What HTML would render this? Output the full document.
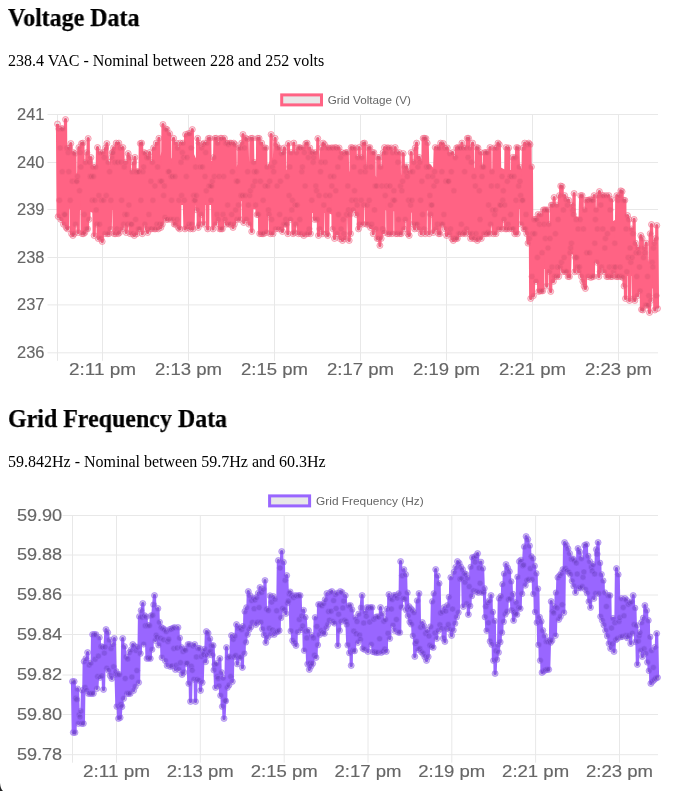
<!DOCTYPE html>
<html><head><meta charset="utf-8"><style>
html,body{margin:0;padding:0;background:#fff;width:692px;height:791px;overflow:hidden;position:relative}
.h{-webkit-text-stroke:0.25px #000;position:absolute;left:8px;margin:0;font-family:"Liberation Serif",serif;font-weight:bold;font-size:26px;line-height:30px;transform:scaleX(0.921);transform-origin:0 0;color:#000;white-space:nowrap}
.p{position:absolute;left:8px;margin:0;font-family:"Liberation Serif",serif;font-size:16px;line-height:18px;color:#000;white-space:nowrap}
svg{position:absolute;left:0;top:0;will-change:transform}
.h,.p{will-change:transform}
</style></head><body>
<h2 class="h" style="top:3px">Voltage Data</h2>
<p class="p" style="top:52px">238.4 VAC - Nominal between 228 and 252 volts</p>
<h2 class="h" style="top:404px">Grid Frequency Data</h2>
<p class="p" style="top:453px">59.842Hz - Nominal between 59.7Hz and 60.3Hz</p>
<svg width="692" height="791" viewBox="0 0 692 791">
<g stroke="#e8e8e8" stroke-width="1"><line x1="47.5" y1="114.5" x2="658" y2="114.5"/><line x1="47.5" y1="162.5" x2="658" y2="162.5"/><line x1="47.5" y1="209.5" x2="658" y2="209.5"/><line x1="47.5" y1="257.5" x2="658" y2="257.5"/><line x1="47.5" y1="304.9" x2="658" y2="304.9"/><line x1="47.5" y1="352.8" x2="658" y2="352.8"/><line x1="57.5" y1="114.5" x2="57.5" y2="360.8"/><line x1="102.5" y1="114.5" x2="102.5" y2="360.8"/><line x1="188.5" y1="114.5" x2="188.5" y2="360.8"/><line x1="274.5" y1="114.5" x2="274.5" y2="360.8"/><line x1="360.5" y1="114.5" x2="360.5" y2="360.8"/><line x1="446.5" y1="114.5" x2="446.5" y2="360.8"/><line x1="532.5" y1="114.5" x2="532.5" y2="360.8"/><line x1="618.5" y1="114.5" x2="618.5" y2="360.8"/></g><g fill="#666" font-family="Liberation Sans, sans-serif" font-size="16.1" stroke="#666" stroke-width="0.15"><text x="44.4" y="119.5" text-anchor="end" textLength="27.4" lengthAdjust="spacingAndGlyphs">241</text><text x="44.4" y="167.5" text-anchor="end" textLength="27.4" lengthAdjust="spacingAndGlyphs">240</text><text x="44.4" y="214.5" text-anchor="end" textLength="27.4" lengthAdjust="spacingAndGlyphs">239</text><text x="44.4" y="262.5" text-anchor="end" textLength="27.4" lengthAdjust="spacingAndGlyphs">238</text><text x="44.4" y="309.9" text-anchor="end" textLength="27.4" lengthAdjust="spacingAndGlyphs">237</text><text x="44.4" y="357.8" text-anchor="end" textLength="27.4" lengthAdjust="spacingAndGlyphs">236</text><text x="102.5" y="374.8" text-anchor="middle" textLength="67" lengthAdjust="spacingAndGlyphs">2:11 pm</text><text x="188.5" y="374.8" text-anchor="middle" textLength="67" lengthAdjust="spacingAndGlyphs">2:13 pm</text><text x="274.5" y="374.8" text-anchor="middle" textLength="67" lengthAdjust="spacingAndGlyphs">2:15 pm</text><text x="360.5" y="374.8" text-anchor="middle" textLength="67" lengthAdjust="spacingAndGlyphs">2:17 pm</text><text x="446.5" y="374.8" text-anchor="middle" textLength="67" lengthAdjust="spacingAndGlyphs">2:19 pm</text><text x="532.5" y="374.8" text-anchor="middle" textLength="67" lengthAdjust="spacingAndGlyphs">2:21 pm</text><text x="618.5" y="374.8" text-anchor="middle" textLength="67" lengthAdjust="spacingAndGlyphs">2:23 pm</text></g><rect x="281.7" y="94.9" width="39.80000000000001" height="10.0" fill="#e8e8e8" stroke="rgb(255,99,132)" stroke-width="3"/><text x="327.8" y="104.2" fill="#666" font-family="Liberation Sans, sans-serif" font-size="11.6" textLength="83.0" lengthAdjust="spacingAndGlyphs">Grid Voltage (V)</text><path d="M59.0 148.3 L60.0 149.2 L61.0 150.1 L62.0 151.0 L63.0 148.8 L64.0 146.6 L65.0 144.3 L66.0 142.1 L67.0 147.0 L68.0 152.2 L69.0 157.4 L69.9 162.6 L70.9 166.8 L71.9 169.0 L72.9 171.3 L73.9 173.6 L74.9 175.8 L75.9 174.6 L76.9 173.1 L77.9 171.6 L78.9 170.1 L79.9 169.0 L80.9 167.8 L81.9 166.7 L82.9 165.7 L83.9 164.9 L84.9 164.1 L85.9 163.2 L86.9 162.4 L87.9 161.6 L88.8 162.8 L89.8 170.1 L90.8 177.4 L91.8 179.0 L92.8 177.5 L93.8 176.0 L94.8 174.4 L95.8 172.9 L96.8 171.4 L97.8 170.1 L98.8 171.2 L99.8 172.4 L100.8 173.5 L101.8 174.6 L102.8 175.8 L103.8 174.1 L104.8 171.6 L105.8 169.1 L106.8 166.6 L107.8 166.0 L108.8 166.0 L109.7 166.0 L110.7 166.0 L111.7 166.0 L112.7 166.0 L113.7 166.0 L114.7 166.0 L115.7 166.0 L116.7 166.4 L117.7 167.0 L118.7 167.6 L119.7 168.2 L120.7 168.8 L121.7 169.4 L122.7 170.1 L123.7 171.2 L124.7 172.3 L125.7 173.4 L126.7 174.5 L127.7 175.6 L128.7 177.1 L129.6 178.7 L130.6 180.3 L131.6 181.9 L132.6 183.6 L133.6 184.7 L134.6 182.2 L135.6 179.6 L136.6 177.1 L137.6 174.6 L138.6 172.1 L139.6 169.6 L140.6 167.0 L141.6 167.1 L142.6 168.9 L143.6 170.7 L144.6 172.5 L145.6 174.3 L146.6 175.9 L147.6 174.9 L148.6 173.8 L149.5 172.8 L150.5 171.7 L151.5 170.7 L152.5 169.7 L153.5 168.6 L154.5 167.6 L155.5 166.5 L156.5 164.8 L157.5 162.3 L158.5 159.9 L159.5 157.5 L160.5 155.1 L161.5 152.6 L162.5 150.2 L163.5 147.8 L164.5 148.0 L165.5 149.6 L166.5 151.2 L167.5 152.6 L168.4 154.0 L169.4 155.3 L170.4 156.7 L171.4 158.0 L172.4 159.4 L173.4 160.8 L174.4 161.6 L175.4 162.4 L176.4 163.2 L177.4 164.0 L178.4 164.8 L179.4 165.5 L180.4 165.4 L181.4 163.7 L182.4 162.1 L183.4 160.5 L184.4 158.8 L185.4 157.2 L186.4 156.4 L187.4 155.8 L188.3 155.1 L189.3 154.4 L190.3 153.8 L191.3 153.1 L192.3 152.4 L193.3 152.7 L194.3 154.8 L195.3 156.9 L196.3 159.0 L197.3 161.1 L198.3 163.2 L199.3 165.4 L200.3 166.2 L201.3 166.4 L202.3 166.7 L203.3 166.9 L204.3 166.4 L205.3 165.2 L206.3 164.1 L207.3 163.0 L208.2 161.8 L209.2 161.0 L210.2 161.0 L211.2 161.0 L212.2 161.0 L213.2 161.0 L214.2 161.0 L215.2 161.0 L216.2 161.0 L217.2 161.0 L218.2 161.0 L219.2 161.0 L220.2 161.0 L221.2 161.0 L222.2 161.0 L223.2 161.0 L224.2 161.0 L225.2 161.3 L226.2 162.9 L227.2 164.6 L228.2 166.3 L229.1 167.0 L230.1 167.0 L231.1 167.0 L232.1 167.0 L233.1 167.0 L234.1 167.0 L235.1 167.0 L236.1 166.9 L237.1 165.6 L238.1 164.3 L239.1 163.0 L240.1 161.8 L241.1 160.5 L242.1 159.2 L243.1 157.9 L244.1 157.3 L245.1 158.4 L246.1 159.4 L247.1 160.5 L248.1 161.5 L249.0 161.4 L250.0 161.4 L251.0 161.3 L252.0 161.3 L253.0 161.2 L254.0 161.2 L255.0 161.1 L256.0 161.1 L257.0 161.0 L258.0 161.0 L259.0 162.7 L260.0 164.4 L261.0 166.1 L262.0 167.8 L263.0 169.6 L264.0 171.3 L265.0 170.9 L266.0 168.9 L267.0 167.0 L267.9 165.0 L268.9 163.0 L269.9 161.1 L270.9 159.1 L271.9 157.1 L272.9 158.7 L273.9 160.6 L274.9 162.4 L275.9 164.2 L276.9 166.1 L277.9 168.0 L278.9 170.1 L279.9 172.2 L280.9 174.3 L281.9 175.8 L282.9 174.5 L283.9 173.1 L284.9 171.8 L285.9 170.5 L286.9 169.2 L287.9 167.9 L288.8 166.6 L289.8 166.2 L290.8 166.6 L291.8 167.0 L292.8 167.5 L293.8 167.9 L294.8 168.3 L295.8 168.7 L296.8 169.1 L297.8 169.5 L298.8 169.9 L299.8 169.6 L300.8 169.1 L301.8 168.5 L302.8 168.0 L303.8 167.5 L304.8 167.0 L305.8 166.4 L306.8 166.3 L307.8 168.1 L308.7 170.0 L309.7 171.8 L310.7 173.7 L311.7 175.5 L312.7 174.4 L313.7 172.1 L314.7 169.8 L315.7 167.6 L316.7 165.3 L317.7 163.0 L318.7 161.1 L319.7 162.0 L320.7 163.0 L321.7 163.9 L322.7 164.8 L323.7 165.8 L324.7 166.7 L325.7 167.2 L326.7 167.5 L327.6 167.7 L328.6 168.0 L329.6 168.3 L330.6 168.5 L331.6 168.8 L332.6 169.1 L333.6 169.4 L334.6 169.6 L335.6 169.9 L336.6 170.4 L337.6 171.1 L338.6 171.8 L339.6 172.5 L340.6 173.2 L341.6 173.9 L342.6 174.6 L343.6 175.3 L344.6 176.0 L345.6 175.1 L346.6 174.2 L347.6 173.2 L348.5 172.3 L349.5 171.4 L350.5 170.4 L351.5 170.0 L352.5 170.0 L353.5 170.0 L354.5 170.0 L355.5 170.0 L356.5 170.0 L357.5 170.0 L358.5 170.0 L359.5 170.0 L360.5 169.1 L361.5 168.2 L362.5 167.2 L363.5 166.3 L364.5 166.4 L365.5 167.1 L366.5 167.7 L367.4 168.4 L368.4 169.0 L369.4 169.6 L370.4 170.5 L371.4 171.6 L372.4 172.7 L373.4 173.8 L374.4 174.9 L375.4 176.0 L376.4 177.1 L377.4 178.2 L378.4 179.3 L379.4 179.4 L380.4 177.9 L381.4 176.3 L382.4 174.8 L383.4 173.3 L384.4 171.7 L385.4 170.2 L386.4 170.0 L387.4 170.0 L388.3 170.0 L389.3 170.0 L390.3 170.0 L391.3 170.0 L392.3 170.0 L393.3 170.0 L394.3 170.0 L395.3 170.0 L396.3 170.3 L397.3 171.1 L398.3 172.0 L399.3 172.9 L400.3 173.7 L401.3 174.6 L402.3 175.5 L403.3 176.0 L404.3 176.0 L405.3 176.0 L406.3 176.0 L407.2 176.0 L408.2 176.0 L409.2 176.0 L410.2 176.0 L411.2 176.0 L412.2 174.7 L413.2 172.9 L414.2 171.1 L415.2 169.3 L416.2 167.4 L417.2 165.9 L418.2 165.4 L419.2 164.9 L420.2 164.4 L421.2 163.8 L422.2 163.3 L423.2 162.8 L424.2 162.3 L425.2 161.8 L426.2 161.3 L427.1 161.5 L428.1 162.5 L429.1 163.5 L430.1 164.6 L431.1 165.6 L432.1 166.6 L433.1 167.6 L434.1 168.7 L435.1 169.7 L436.1 169.6 L437.1 169.1 L438.1 168.6 L439.1 168.1 L440.1 167.5 L441.1 167.0 L442.1 166.5 L443.1 166.1 L444.1 167.4 L445.1 168.7 L446.1 170.0 L447.1 171.3 L448.0 172.6 L449.0 173.9 L450.0 175.3 L451.0 175.7 L452.0 174.8 L453.0 174.0 L454.0 173.2 L455.0 172.4 L456.0 171.6 L457.0 170.8 L458.0 170.0 L459.0 169.1 L460.0 168.2 L461.0 167.3 L462.0 166.4 L463.0 165.5 L464.0 164.6 L465.0 163.7 L466.0 162.8 L466.9 161.9 L467.9 161.0 L468.9 162.0 L469.9 163.0 L470.9 164.1 L471.9 165.1 L472.9 166.1 L473.9 167.2 L474.9 168.2 L475.9 169.3 L476.9 170.2 L477.9 170.9 L478.9 171.6 L479.9 172.3 L480.9 173.1 L481.9 173.8 L482.9 174.5 L483.9 175.2 L484.9 175.9 L485.9 175.0 L486.9 173.8 L487.8 172.6 L488.8 171.4 L489.8 170.2 L490.8 169.7 L491.8 169.4 L492.8 169.1 L493.8 168.8 L494.8 168.5 L495.8 168.2 L496.8 167.9 L497.8 167.6 L498.8 167.3 L499.8 167.1 L500.8 167.6 L501.8 168.0 L502.8 168.5 L503.8 169.0 L504.8 169.4 L505.8 169.9 L506.8 170.0 L507.7 170.0 L508.7 170.0 L509.7 170.0 L510.7 170.0 L511.7 170.0 L512.7 170.0 L513.7 170.0 L514.7 170.0 L515.7 170.0 L516.7 170.0 L517.7 169.8 L518.7 169.5 L519.7 169.2 L520.7 168.9 L521.7 168.7 L522.7 168.4 L523.7 168.1 L524.7 167.8 L525.7 167.5 L526.6 167.2 L527.6 167.0 L528.6 167.0 L529.6 167.0 L530.6 167.0 L531.6 204.5 L532.6 244.6 L533.6 243.2 L534.6 241.8 L535.6 240.4 L536.6 239.0 L537.6 237.6 L538.6 236.7 L539.6 236.2 L540.6 235.7 L541.6 235.2 L542.6 234.7 L543.6 234.2 L544.6 233.7 L545.6 233.2 L546.5 232.1 L547.5 230.5 L548.5 228.9 L549.5 227.3 L550.5 225.6 L551.5 224.0 L552.5 222.4 L553.5 220.8 L554.5 219.3 L555.5 217.9 L556.5 216.6 L557.5 215.2 L558.5 213.8 L559.5 212.5 L560.5 211.1 L561.5 209.7 L562.5 210.5 L563.5 213.8 L564.5 217.0 L565.5 220.2 L566.5 221.7 L567.4 221.0 L568.4 220.4 L569.4 219.7 L570.4 219.0 L571.4 218.4 L572.4 217.7 L573.4 217.1 L574.4 216.4 L575.4 216.2 L576.4 216.6 L577.4 217.0 L578.4 217.4 L579.4 217.8 L580.4 218.2 L581.4 218.6 L582.4 218.9 L583.4 219.3 L584.4 219.7 L585.4 220.1 L586.4 220.5 L587.3 220.9 L588.3 221.3 L589.3 221.7 L590.3 221.7 L591.3 220.9 L592.3 220.1 L593.3 219.3 L594.3 218.6 L595.3 217.8 L596.3 217.0 L597.3 216.2 L598.3 215.4 L599.3 214.6 L600.3 214.2 L601.3 214.8 L602.3 215.5 L603.3 216.2 L604.3 216.8 L605.3 217.5 L606.2 218.2 L607.2 218.8 L608.2 219.5 L609.2 220.2 L610.2 220.8 L611.2 221.5 L612.2 221.8 L613.2 221.1 L614.2 220.4 L615.2 219.7 L616.2 218.9 L617.2 218.2 L618.2 217.5 L619.2 216.8 L620.2 216.1 L621.2 215.3 L622.2 214.6 L623.2 214.8 L624.2 219.6 L625.2 224.3 L626.1 229.1 L627.1 233.9 L628.1 238.1 L629.1 239.0 L630.1 239.8 L631.1 240.7 L632.1 241.5 L633.1 242.4 L634.1 243.2 L635.1 244.2 L636.1 246.3 L637.1 248.4 L638.1 250.6 L639.1 252.7 L640.1 254.8 L641.1 256.9 L642.1 258.7 L643.1 260.2 L644.1 261.6 L645.1 263.1 L646.0 264.6 L647.0 265.8 L648.0 262.0 L649.0 258.3 L650.0 254.5 L651.0 250.7 L652.0 247.0 L653.0 247.2 L654.0 247.4 L655.0 247.5 L656.0 247.7 L656.0 286.8 L655.0 287.3 L654.0 287.8 L653.0 288.3 L652.0 288.8 L651.0 289.3 L650.0 289.8 L649.0 289.8 L648.0 289.4 L647.0 289.0 L646.0 288.7 L645.1 288.3 L644.1 287.9 L643.1 287.5 L642.1 287.2 L641.1 286.3 L640.1 284.9 L639.1 283.5 L638.1 282.1 L637.1 280.7 L636.1 279.3 L635.1 278.0 L634.1 276.6 L633.1 276.0 L632.1 276.0 L631.1 276.0 L630.1 276.0 L629.1 276.0 L628.1 276.0 L627.1 276.0 L626.1 276.0 L625.2 271.8 L624.2 264.0 L623.2 256.3 L622.2 255.0 L621.2 255.0 L620.2 255.0 L619.2 255.0 L618.2 255.0 L617.2 255.0 L616.2 255.0 L615.2 255.0 L614.2 255.0 L613.2 255.0 L612.2 255.0 L611.2 255.0 L610.2 255.0 L609.2 255.0 L608.2 255.0 L607.2 255.0 L606.2 255.0 L605.3 255.0 L604.3 255.0 L603.3 255.0 L602.3 255.0 L601.3 255.0 L600.3 255.0 L599.3 255.0 L598.3 255.0 L597.3 255.0 L596.3 255.0 L595.3 255.0 L594.3 255.0 L593.3 255.0 L592.3 255.0 L591.3 255.0 L590.3 256.1 L589.3 257.8 L588.3 259.5 L587.3 261.2 L586.4 262.9 L585.4 264.6 L584.4 265.6 L583.4 262.5 L582.4 259.4 L581.4 256.4 L580.4 254.0 L579.4 254.0 L578.4 254.0 L577.4 254.0 L576.4 254.0 L575.4 254.0 L574.4 254.0 L573.4 254.0 L572.4 254.0 L571.4 254.0 L570.4 254.0 L569.4 254.0 L568.4 254.0 L567.4 254.0 L566.5 254.0 L565.5 254.0 L564.5 254.0 L563.5 254.0 L562.5 254.0 L561.5 254.0 L560.5 254.0 L559.5 254.0 L558.5 254.0 L557.5 254.0 L556.5 254.0 L555.5 254.0 L554.5 254.0 L553.5 256.4 L552.5 261.4 L551.5 266.4 L550.5 269.0 L549.5 269.0 L548.5 269.0 L547.5 269.0 L546.5 269.0 L545.6 269.0 L544.6 269.0 L543.6 269.0 L542.6 269.0 L541.6 269.0 L540.6 269.0 L539.6 269.0 L538.6 269.0 L537.6 269.4 L536.6 270.4 L535.6 271.4 L534.6 272.4 L533.6 273.4 L532.6 274.4 L531.6 275.4 L530.6 268.9 L529.6 249.9 L528.6 230.8 L527.6 211.8 L526.6 209.0 L525.7 209.0 L524.7 209.0 L523.7 209.0 L522.7 209.0 L521.7 209.0 L520.7 209.0 L519.7 209.0 L518.7 209.0 L517.7 209.0 L516.7 209.0 L515.7 209.0 L514.7 209.0 L513.7 209.0 L512.7 209.0 L511.7 209.0 L510.7 209.0 L509.7 209.0 L508.7 209.0 L507.7 209.0 L506.8 209.0 L505.8 209.0 L504.8 209.0 L503.8 209.0 L502.8 209.0 L501.8 209.0 L500.8 209.0 L499.8 209.0 L498.8 209.0 L497.8 209.0 L496.8 209.0 L495.8 209.0 L494.8 209.0 L493.8 209.2 L492.8 209.3 L491.8 209.4 L490.8 209.5 L489.8 209.7 L488.8 209.8 L487.8 209.9 L486.9 210.4 L485.9 211.1 L484.9 211.9 L483.9 212.6 L482.9 213.4 L481.9 214.1 L480.9 214.8 L479.9 215.6 L478.9 216.3 L477.9 217.0 L476.9 217.8 L475.9 217.6 L474.9 217.0 L473.9 216.3 L472.9 215.7 L471.9 215.1 L470.9 214.5 L469.9 213.9 L468.9 213.3 L467.9 212.7 L466.9 212.1 L466.0 211.4 L465.0 210.8 L464.0 210.2 L463.0 210.5 L462.0 211.2 L461.0 211.9 L460.0 212.7 L459.0 213.4 L458.0 214.1 L457.0 214.8 L456.0 215.6 L455.0 216.3 L454.0 217.0 L453.0 217.8 L452.0 217.5 L451.0 216.8 L450.0 216.0 L449.0 215.3 L448.0 214.5 L447.1 213.8 L446.1 213.0 L445.1 212.8 L444.1 212.6 L443.1 212.3 L442.1 212.1 L441.1 211.9 L440.1 211.6 L439.1 211.4 L438.1 211.2 L437.1 210.9 L436.1 210.7 L435.1 210.5 L434.1 210.3 L433.1 210.0 L432.1 210.1 L431.1 210.2 L430.1 210.4 L429.1 210.5 L428.1 210.6 L427.1 210.7 L426.2 210.9 L425.2 211.0 L424.2 211.1 L423.2 211.2 L422.2 211.4 L421.2 211.5 L420.2 211.6 L419.2 211.7 L418.2 211.9 L417.2 212.0 L416.2 212.1 L415.2 212.2 L414.2 212.3 L413.2 212.5 L412.2 212.6 L411.2 212.7 L410.2 212.8 L409.2 213.0 L408.2 212.9 L407.2 212.8 L406.3 212.7 L405.3 212.6 L404.3 212.5 L403.3 212.3 L402.3 212.2 L401.3 212.1 L400.3 212.0 L399.3 211.9 L398.3 211.8 L397.3 211.7 L396.3 211.5 L395.3 211.4 L394.3 211.3 L393.3 211.2 L392.3 211.1 L391.3 211.0 L390.3 210.8 L389.3 210.7 L388.3 210.6 L387.4 210.5 L386.4 210.4 L385.4 210.3 L384.4 210.2 L383.4 210.0 L382.4 212.0 L381.4 215.3 L380.4 218.5 L379.4 221.7 L378.4 221.8 L377.4 219.8 L376.4 217.8 L375.4 215.8 L374.4 213.8 L373.4 211.8 L372.4 209.9 L371.4 207.9 L370.4 205.9 L369.4 204.7 L368.4 204.1 L367.4 203.5 L366.5 202.9 L365.5 202.3 L364.5 201.7 L363.5 201.1 L362.5 200.5 L361.5 200.3 L360.5 201.7 L359.5 203.1 L358.5 204.4 L357.5 205.8 L356.5 207.2 L355.5 208.6 L354.5 209.9 L353.5 211.3 L352.5 212.7 L351.5 214.1 L350.5 215.5 L349.5 216.8 L348.5 218.0 L347.6 218.0 L346.6 218.0 L345.6 218.0 L344.6 218.0 L343.6 218.0 L342.6 218.0 L341.6 217.7 L340.6 217.4 L339.6 217.1 L338.6 216.7 L337.6 216.4 L336.6 216.1 L335.6 215.8 L334.6 215.4 L333.6 215.1 L332.6 214.8 L331.6 214.5 L330.6 214.1 L329.6 213.8 L328.6 213.5 L327.6 213.1 L326.7 213.0 L325.7 213.0 L324.7 213.0 L323.7 213.0 L322.7 213.0 L321.7 213.0 L320.7 213.0 L319.7 213.0 L318.7 213.0 L317.7 213.0 L316.7 213.0 L315.7 213.0 L314.7 213.0 L313.7 213.0 L312.7 213.0 L311.7 213.0 L310.7 213.0 L309.7 213.0 L308.7 213.0 L307.8 213.0 L306.8 213.0 L305.8 213.0 L304.8 213.0 L303.8 213.0 L302.8 212.8 L301.8 212.4 L300.8 212.1 L299.8 211.8 L298.8 211.4 L297.8 211.1 L296.8 210.7 L295.8 210.4 L294.8 210.0 L293.8 209.9 L292.8 209.9 L291.8 209.8 L290.8 209.7 L289.8 209.6 L288.8 209.5 L287.9 209.5 L286.9 209.4 L285.9 209.3 L284.9 209.2 L283.9 209.2 L282.9 209.1 L281.9 209.0 L280.9 209.1 L279.9 209.1 L278.9 209.2 L277.9 209.2 L276.9 209.3 L275.9 209.4 L274.9 209.4 L273.9 209.5 L272.9 209.6 L271.9 209.6 L270.9 209.7 L269.9 209.8 L268.9 209.8 L267.9 209.9 L267.0 210.0 L266.0 210.0 L265.0 209.9 L264.0 209.8 L263.0 209.8 L262.0 209.7 L261.0 209.6 L260.0 209.6 L259.0 209.5 L258.0 209.4 L257.0 209.4 L256.0 209.3 L255.0 209.2 L254.0 209.2 L253.0 209.1 L252.0 209.0 L251.0 208.6 L250.0 207.4 L249.0 206.2 L248.1 205.0 L247.1 203.9 L246.1 202.7 L245.1 201.5 L244.1 200.3 L243.1 200.3 L242.1 200.8 L241.1 201.3 L240.1 201.7 L239.1 202.2 L238.1 202.6 L237.1 203.1 L236.1 203.6 L235.1 204.0 L234.1 204.5 L233.1 204.9 L232.1 205.0 L231.1 205.0 L230.1 205.0 L229.1 205.0 L228.2 205.0 L227.2 205.0 L226.2 205.0 L225.2 205.0 L224.2 205.0 L223.2 205.0 L222.2 205.0 L221.2 205.0 L220.2 205.0 L219.2 205.0 L218.2 205.0 L217.2 205.0 L216.2 205.0 L215.2 205.0 L214.2 205.0 L213.2 205.0 L212.2 205.0 L211.2 205.0 L210.2 205.0 L209.2 205.0 L208.2 205.0 L207.3 205.0 L206.3 205.0 L205.3 205.0 L204.3 205.0 L203.3 205.0 L202.3 205.0 L201.3 205.0 L200.3 205.0 L199.3 205.0 L198.3 205.0 L197.3 205.0 L196.3 205.0 L195.3 205.0 L194.3 205.0 L193.3 205.0 L192.3 205.0 L191.3 205.0 L190.3 205.0 L189.3 205.0 L188.3 205.0 L187.4 205.0 L186.4 205.0 L185.4 205.0 L184.4 205.0 L183.4 205.0 L182.4 205.0 L181.4 205.0 L180.4 205.0 L179.4 205.0 L178.4 205.0 L177.4 204.5 L176.4 203.8 L175.4 203.0 L174.4 202.2 L173.4 201.5 L172.4 200.7 L171.4 199.9 L170.4 199.2 L169.4 198.4 L168.4 197.7 L167.5 196.9 L166.5 196.1 L165.5 195.4 L164.5 196.2 L163.5 198.5 L162.5 200.7 L161.5 203.0 L160.5 205.0 L159.5 205.4 L158.5 205.8 L157.5 206.2 L156.5 206.6 L155.5 206.9 L154.5 207.3 L153.5 207.7 L152.5 208.1 L151.5 208.5 L150.5 208.8 L149.5 209.2 L148.6 209.6 L147.6 210.0 L146.6 210.2 L145.6 210.4 L144.6 210.7 L143.6 210.9 L142.6 211.1 L141.6 211.4 L140.6 211.6 L139.6 211.8 L138.6 212.1 L137.6 212.3 L136.6 212.5 L135.6 212.7 L134.6 213.0 L133.6 212.7 L132.6 212.3 L131.6 212.0 L130.6 211.7 L129.6 211.3 L128.7 211.0 L127.7 210.6 L126.7 210.3 L125.7 210.0 L124.7 210.0 L123.7 210.0 L122.7 210.0 L121.7 210.0 L120.7 210.0 L119.7 210.0 L118.7 210.0 L117.7 210.0 L116.7 210.0 L115.7 210.0 L114.7 210.0 L113.7 210.0 L112.7 210.0 L111.7 210.0 L110.7 210.0 L109.7 210.0 L108.8 210.0 L107.8 210.0 L106.8 210.4 L105.8 212.2 L104.8 214.0 L103.8 215.8 L102.8 217.6 L101.8 218.8 L100.8 218.2 L99.8 217.5 L98.8 216.8 L97.8 216.1 L96.8 215.4 L95.8 214.7 L94.8 214.0 L93.8 213.3 L92.8 212.8 L91.8 212.5 L90.8 212.1 L89.8 211.8 L88.8 211.4 L87.9 211.1 L86.9 210.7 L85.9 210.4 L84.9 210.1 L83.9 210.0 L82.9 210.0 L81.9 210.0 L80.9 210.0 L79.9 210.0 L78.9 210.0 L77.9 210.2 L76.9 210.7 L75.9 211.3 L74.9 211.8 L73.9 212.4 L72.9 212.9 L71.9 211.9 L70.9 210.7 L69.9 209.5 L69.0 208.3 L68.0 207.0 L67.0 205.8 L66.0 204.6 L65.0 203.3 L64.0 202.1 L63.0 200.8 L62.0 199.6 L61.0 198.4 L60.0 197.1 L59.0 195.9Z" fill="rgb(255,99,132)"/><path d="M57.5 124.0 L58.2 216.5 L58.8 128.8 L59.5 200.3 L60.2 147.9 L60.8 219.4 L61.5 128.5 L62.2 171.7 L62.8 128.8 L63.5 224.2 L64.2 214.6 L64.8 214.6 L65.5 119.5 L66.2 227.5 L66.8 147.9 L67.5 228.9 L68.2 152.6 L68.8 171.7 L69.5 147.9 L70.2 200.3 L70.8 143.5 L71.5 233.7 L72.2 181.3 L72.9 235.5 L73.5 152.6 L74.2 233.7 L74.9 153.5 L75.5 224.2 L76.2 181.3 L76.9 181.3 L77.5 176.5 L78.2 232.5 L78.9 147.5 L79.5 190.8 L80.2 152.6 L80.9 166.9 L81.5 143.5 L82.2 233.7 L82.9 143.1 L83.5 233.7 L84.2 214.6 L84.9 232.5 L85.5 162.2 L86.2 228.9 L86.9 152.6 L87.5 228.9 L88.2 138.5 L88.9 219.4 L89.5 162.2 L90.2 176.5 L90.9 157.5 L91.5 176.5 L92.2 200.3 L92.9 166.9 L93.5 176.5 L94.2 235.5 L94.9 200.3 L95.5 166.9 L96.2 209.9 L96.9 224.2 L97.5 147.5 L98.2 238.5 L98.9 195.6 L99.5 224.2 L100.2 152.6 L100.9 238.5 L101.5 200.3 L102.2 241.5 L102.9 152.6 L103.6 200.3 L104.2 157.4 L104.9 233.7 L105.6 147.9 L106.2 195.6 L106.9 143.5 L107.6 233.7 L108.2 162.2 L108.9 233.7 L109.6 171.7 L110.2 228.9 L110.9 200.3 L111.6 157.4 L112.2 152.6 L112.9 152.6 L113.6 147.9 L114.2 233.7 L114.9 162.2 L115.6 233.7 L116.2 143.1 L116.9 228.9 L117.6 162.2 L118.2 233.7 L118.9 143.1 L119.6 232.5 L120.2 147.9 L120.9 162.2 L121.6 200.3 L122.2 228.9 L122.9 147.5 L123.6 224.2 L124.2 166.9 L124.9 214.6 L125.6 162.2 L126.2 232.5 L126.9 214.6 L127.6 224.2 L128.2 153.5 L128.9 205.1 L129.6 157.4 L130.2 233.7 L130.9 224.2 L131.6 224.2 L132.2 171.7 L132.9 233.7 L133.6 162.5 L134.3 235.5 L134.9 157.4 L135.6 219.4 L136.3 171.7 L136.9 233.7 L137.6 171.7 L138.3 228.9 L138.9 171.7 L139.6 228.9 L140.3 143.5 L140.9 200.3 L141.6 143.1 L142.3 233.7 L142.9 171.7 L143.6 166.9 L144.3 152.6 L144.9 224.2 L145.6 153.5 L146.3 228.9 L146.9 157.4 L147.6 232.5 L148.3 157.4 L148.9 214.6 L149.6 152.6 L150.3 228.9 L150.9 181.3 L151.6 228.9 L152.3 162.2 L152.9 200.3 L153.6 147.9 L154.3 228.9 L154.9 186.0 L155.6 228.9 L156.3 143.1 L156.9 224.2 L157.6 166.9 L158.3 228.9 L158.9 138.3 L159.6 224.2 L160.3 181.3 L160.9 227.5 L161.6 181.3 L162.3 224.2 L163.0 124.5 L163.6 195.6 L164.3 186.0 L165.0 217.5 L165.6 128.8 L166.3 219.4 L167.0 129.5 L167.6 219.4 L168.3 171.7 L169.0 171.7 L169.6 133.6 L170.3 219.4 L171.0 176.5 L171.6 200.3 L172.3 176.5 L173.0 219.4 L173.6 138.3 L174.3 224.2 L175.0 176.5 L175.6 224.2 L176.3 143.1 L177.0 219.4 L177.6 147.9 L178.3 227.5 L179.0 200.3 L179.6 228.9 L180.3 143.1 L181.0 162.2 L181.6 195.6 L182.3 152.6 L183.0 143.1 L183.6 157.4 L184.3 200.3 L185.0 228.9 L185.6 134.5 L186.3 176.5 L187.0 157.4 L187.6 227.5 L188.3 133.6 L189.0 224.2 L189.6 133.6 L190.3 228.9 L191.0 147.9 L191.6 224.2 L192.3 129.5 L193.0 228.9 L193.7 195.6 L194.3 200.3 L195.0 200.3 L195.7 166.9 L196.3 195.6 L197.0 209.9 L197.7 138.3 L198.3 227.5 L199.0 143.1 L199.7 224.2 L200.3 166.9 L201.0 214.6 L201.7 147.9 L202.3 166.9 L203.0 144.5 L203.7 224.2 L204.3 143.1 L205.0 176.5 L205.7 152.6 L206.3 190.8 L207.0 143.1 L207.7 228.9 L208.3 138.5 L209.0 186.0 L209.7 138.3 L210.3 186.0 L211.0 200.3 L211.7 186.0 L212.3 181.3 L213.0 228.9 L213.7 157.4 L214.3 176.5 L215.0 138.3 L215.7 224.2 L216.3 138.3 L217.0 214.6 L217.7 143.1 L218.3 219.4 L219.0 176.5 L219.7 228.9 L220.3 138.3 L221.0 228.9 L221.7 138.3 L222.3 228.9 L223.0 214.6 L223.7 176.5 L224.4 138.3 L225.0 219.4 L225.7 143.1 L226.4 224.2 L227.0 143.1 L227.7 205.1 L228.4 144.5 L229.0 224.2 L229.7 143.1 L230.4 224.2 L231.0 143.1 L231.7 214.6 L232.4 171.7 L233.0 227.5 L233.7 143.1 L234.4 224.2 L235.0 144.5 L235.7 209.9 L236.4 181.3 L237.0 219.4 L237.7 181.3 L238.4 205.1 L239.0 147.9 L239.7 219.4 L240.4 147.9 L241.0 195.6 L241.7 143.1 L242.4 195.6 L243.0 134.5 L243.7 222.5 L244.4 147.9 L245.0 195.6 L245.7 138.3 L246.4 219.4 L247.0 139.0 L247.7 171.7 L248.4 205.1 L249.0 224.2 L249.7 195.6 L250.4 190.8 L251.0 138.3 L251.7 231.5 L252.4 138.3 L253.1 186.0 L253.7 162.2 L254.4 171.7 L255.1 181.3 L255.7 205.1 L256.4 171.7 L257.1 214.6 L257.7 138.3 L258.4 214.6 L259.1 138.3 L259.7 233.7 L260.4 181.3 L261.1 233.7 L261.7 143.1 L262.4 233.7 L263.1 200.3 L263.7 233.7 L264.4 147.9 L265.1 186.0 L265.7 147.9 L266.4 232.5 L267.1 166.9 L267.7 186.0 L268.4 209.9 L269.1 214.6 L269.7 181.3 L270.4 233.7 L271.1 134.5 L271.7 219.4 L272.4 166.9 L273.1 233.7 L273.7 171.7 L274.4 162.2 L275.1 138.3 L275.7 228.9 L276.4 144.5 L277.1 186.0 L277.7 147.9 L278.4 228.9 L279.1 147.9 L279.7 214.6 L280.4 181.3 L281.1 228.9 L281.7 153.5 L282.4 231.5 L283.1 152.6 L283.8 224.2 L284.4 147.9 L285.1 224.2 L285.8 219.4 L286.4 224.2 L287.1 176.5 L287.8 233.7 L288.4 143.5 L289.1 195.6 L289.8 166.9 L290.4 219.4 L291.1 152.6 L291.8 209.9 L292.4 200.3 L293.1 233.7 L293.8 143.1 L294.4 232.5 L295.1 205.1 L295.8 224.2 L296.4 152.6 L297.1 205.1 L297.8 147.9 L298.4 233.7 L299.1 147.5 L299.8 219.4 L300.4 147.9 L301.1 233.7 L301.8 171.7 L302.4 166.9 L303.1 147.9 L303.8 235.5 L304.4 152.6 L305.1 186.0 L305.8 143.5 L306.4 233.7 L307.1 143.1 L307.8 233.7 L308.4 157.4 L309.1 228.9 L309.8 147.9 L310.4 233.7 L311.1 152.6 L311.8 200.3 L312.4 152.6 L313.1 162.2 L313.8 157.4 L314.5 219.4 L315.1 152.6 L315.8 186.0 L316.5 190.8 L317.1 219.4 L317.8 138.5 L318.5 235.5 L319.1 195.6 L319.8 228.9 L320.5 171.7 L321.1 162.2 L321.8 147.9 L322.5 233.7 L323.1 143.1 L323.8 205.1 L324.5 144.5 L325.1 162.2 L325.8 195.6 L326.5 233.7 L327.1 147.9 L327.8 235.5 L328.5 147.9 L329.1 209.9 L329.8 195.6 L330.5 176.5 L331.1 147.9 L331.8 186.0 L332.5 147.9 L333.1 228.9 L333.8 176.5 L334.5 238.5 L335.1 147.5 L335.8 190.8 L336.5 147.9 L337.1 233.7 L337.8 166.9 L338.5 214.6 L339.1 147.9 L339.8 238.5 L340.5 157.4 L341.1 228.9 L341.8 152.6 L342.5 240.5 L343.2 219.4 L343.8 233.7 L344.5 153.5 L345.2 238.5 L345.8 152.6 L346.5 214.6 L347.2 152.6 L347.8 186.0 L348.5 209.9 L349.2 240.5 L349.8 214.6 L350.5 233.7 L351.2 147.5 L351.8 200.3 L352.5 147.9 L353.2 209.9 L353.8 166.9 L354.5 190.8 L355.2 147.9 L355.8 200.3 L356.5 214.6 L357.2 205.1 L357.8 157.4 L358.5 228.9 L359.2 147.5 L359.8 224.2 L360.5 171.7 L361.2 200.3 L361.8 157.4 L362.5 224.2 L363.2 143.5 L363.8 205.1 L364.5 143.1 L365.2 171.7 L365.8 166.9 L366.5 224.2 L367.2 205.1 L367.8 224.2 L368.5 147.9 L369.2 200.3 L369.8 147.5 L370.5 227.5 L371.2 166.9 L371.8 224.2 L372.5 152.6 L373.2 233.7 L373.9 152.6 L374.5 209.9 L375.2 186.0 L375.9 228.9 L376.5 186.0 L377.2 238.5 L377.9 157.4 L378.5 238.5 L379.2 157.5 L379.9 245.5 L380.5 166.9 L381.2 238.5 L381.9 186.0 L382.5 228.9 L383.2 152.6 L383.9 232.5 L384.5 147.5 L385.2 195.6 L385.9 152.6 L386.5 186.0 L387.2 147.9 L387.9 233.7 L388.5 147.9 L389.2 233.7 L389.9 186.0 L390.5 205.1 L391.2 147.9 L391.9 233.7 L392.5 152.6 L393.2 200.3 L393.9 190.8 L394.5 200.3 L395.2 147.5 L395.9 233.7 L396.5 152.6 L397.2 233.7 L397.9 162.2 L398.5 219.4 L399.2 152.6 L399.9 233.7 L400.5 186.0 L401.2 233.7 L401.9 190.8 L402.6 181.3 L403.2 153.5 L403.9 228.9 L404.6 166.9 L405.2 219.4 L405.9 171.7 L406.6 166.9 L407.2 176.5 L407.9 233.7 L408.6 200.3 L409.2 235.5 L409.9 171.7 L410.6 205.1 L411.2 152.6 L411.9 200.3 L412.6 171.7 L413.2 224.2 L413.9 162.2 L414.6 228.9 L415.2 147.9 L415.9 224.2 L416.6 143.1 L417.2 224.2 L417.9 166.9 L418.6 228.9 L419.2 157.4 L419.9 162.2 L420.6 200.3 L421.2 233.7 L421.9 181.3 L422.6 214.6 L423.2 138.3 L423.9 228.9 L424.6 138.3 L425.2 233.7 L425.9 138.5 L426.6 166.9 L427.2 143.1 L427.9 176.5 L428.6 166.9 L429.2 233.7 L429.9 195.6 L430.6 214.6 L431.2 205.1 L431.9 205.1 L432.6 176.5 L433.3 232.5 L433.9 186.0 L434.6 171.7 L435.3 147.5 L435.9 228.9 L436.6 181.3 L437.3 224.2 L437.9 147.9 L438.6 233.7 L439.3 147.9 L439.9 233.7 L440.6 143.1 L441.3 224.2 L441.9 171.7 L442.6 224.2 L443.3 143.5 L443.9 214.6 L444.6 147.9 L445.3 228.9 L445.9 181.3 L446.6 235.5 L447.3 147.9 L447.9 181.3 L448.6 181.3 L449.3 233.7 L449.9 153.5 L450.6 228.9 L451.3 171.7 L451.9 238.5 L452.6 152.6 L453.3 240.5 L453.9 190.8 L454.6 238.5 L455.3 157.4 L455.9 238.5 L456.6 147.9 L457.3 238.5 L457.9 147.5 L458.6 233.7 L459.3 147.9 L459.9 233.7 L460.6 147.9 L461.3 224.2 L461.9 143.1 L462.6 233.7 L463.3 147.9 L464.0 232.5 L464.6 171.7 L465.3 233.7 L466.0 147.9 L466.6 228.9 L467.3 138.3 L468.0 157.4 L468.6 138.3 L469.3 233.7 L470.0 147.9 L470.6 238.5 L471.3 162.2 L472.0 233.7 L472.6 143.1 L473.3 238.5 L474.0 176.5 L474.6 238.5 L475.3 186.0 L476.0 233.7 L476.6 147.5 L477.3 240.5 L478.0 147.9 L478.6 238.5 L479.3 190.8 L480.0 219.4 L480.6 152.6 L481.3 238.5 L482.0 176.5 L482.6 166.9 L483.3 166.9 L484.0 233.7 L484.6 152.6 L485.3 233.7 L486.0 152.6 L486.6 233.7 L487.3 152.6 L488.0 232.5 L488.6 205.1 L489.3 233.7 L490.0 147.5 L490.6 224.2 L491.3 186.0 L492.0 171.7 L492.7 209.9 L493.3 233.7 L494.0 147.9 L494.7 214.6 L495.3 209.9 L496.0 233.7 L496.7 147.9 L497.3 186.0 L498.0 143.1 L498.7 228.9 L499.3 144.5 L500.0 205.1 L500.7 205.1 L501.3 228.9 L502.0 176.5 L502.7 200.3 L503.3 190.8 L504.0 219.4 L504.7 205.1 L505.3 228.9 L506.0 147.5 L506.7 228.9 L507.3 181.3 L508.0 224.2 L508.7 147.9 L509.3 228.9 L510.0 176.5 L510.7 214.6 L511.3 176.5 L512.0 228.9 L512.7 157.4 L513.3 228.9 L514.0 176.5 L514.7 233.7 L515.3 157.4 L516.0 200.3 L516.7 147.5 L517.3 233.7 L518.0 147.9 L518.7 186.0 L519.3 166.9 L520.0 181.3 L520.7 195.6 L521.3 224.2 L522.0 200.3 L522.7 200.3 L523.4 147.9 L524.0 228.9 L524.7 143.1 L525.4 228.9 L526.0 214.6 L526.7 233.7 L527.4 144.5 L528.0 243.2 L528.7 143.1 L529.4 238.5 L530.0 144.5 L530.7 298.5 L531.4 166.9 L532.0 276.6 L532.7 233.7 L533.4 295.7 L534.0 219.4 L534.7 233.7 L535.4 219.4 L536.0 281.4 L536.7 219.4 L537.4 257.5 L538.0 214.5 L538.7 291.5 L539.4 224.2 L540.0 290.9 L540.7 214.6 L541.4 290.9 L542.0 252.8 L542.7 290.9 L543.4 209.9 L544.0 224.2 L544.7 209.9 L545.4 238.5 L546.0 209.9 L546.7 286.1 L547.4 209.9 L548.0 248.0 L548.7 224.2 L549.4 271.8 L550.0 238.5 L550.7 291.5 L551.4 205.1 L552.0 267.1 L552.7 205.1 L553.4 281.4 L554.1 197.5 L554.7 276.5 L555.4 233.7 L556.1 276.6 L556.7 205.1 L557.4 267.1 L558.1 219.4 L558.7 276.6 L559.4 195.6 L560.1 267.1 L560.7 186.0 L561.4 262.3 L562.1 186.5 L562.7 271.8 L563.4 209.9 L564.1 257.5 L564.7 195.6 L565.4 271.8 L566.1 199.5 L566.7 271.8 L567.4 205.1 L568.1 276.6 L568.7 200.3 L569.4 276.6 L570.1 252.8 L570.7 248.0 L571.4 243.2 L572.1 205.1 L572.7 209.9 L573.4 214.6 L574.1 193.5 L574.7 271.8 L575.4 257.5 L576.1 219.4 L576.7 257.5 L577.4 267.1 L578.1 228.9 L578.7 271.8 L579.4 267.1 L580.1 219.4 L580.7 195.6 L581.4 276.5 L582.1 195.6 L582.8 281.4 L583.4 228.9 L584.1 286.1 L584.8 209.9 L585.4 288.5 L586.1 200.3 L586.8 252.8 L587.4 200.3 L588.1 276.6 L588.8 200.3 L589.4 252.8 L590.1 199.5 L590.8 277.5 L591.4 200.3 L592.1 276.6 L592.8 200.3 L593.4 276.6 L594.1 195.6 L594.8 243.2 L595.4 219.4 L596.1 209.9 L596.8 262.3 L597.4 228.9 L598.1 195.6 L598.8 276.6 L599.4 191.5 L600.1 271.8 L600.8 205.1 L601.4 267.1 L602.1 195.6 L602.8 228.9 L603.4 195.6 L604.1 271.8 L604.8 248.0 L605.4 238.5 L606.1 195.6 L606.8 276.6 L607.4 233.7 L608.1 276.6 L608.8 195.6 L609.4 267.1 L610.1 209.9 L610.8 276.6 L611.4 199.5 L612.1 276.6 L612.8 228.9 L613.5 271.8 L614.1 267.1 L614.8 243.2 L615.5 267.1 L616.1 276.6 L616.8 195.6 L617.5 276.6 L618.1 200.3 L618.8 276.6 L619.5 195.6 L620.1 267.1 L620.8 190.8 L621.5 276.6 L622.1 191.5 L622.8 277.5 L623.5 200.3 L624.1 286.1 L624.8 200.3 L625.5 298.5 L626.1 228.9 L626.8 271.8 L627.5 215.5 L628.1 257.5 L628.8 219.4 L629.5 300.5 L630.1 248.0 L630.8 262.3 L631.5 228.9 L632.1 257.5 L632.8 233.7 L633.5 298.5 L634.1 219.4 L634.8 300.5 L635.5 243.2 L636.1 252.8 L636.8 276.6 L637.5 295.7 L638.1 248.0 L638.8 252.8 L639.5 267.1 L640.1 290.9 L640.8 235.5 L641.5 309.5 L642.1 238.5 L642.8 310.0 L643.5 257.5 L644.2 248.0 L644.8 252.8 L645.5 305.2 L646.2 243.2 L646.8 305.2 L647.5 276.6 L648.2 305.2 L648.8 295.7 L649.5 312.5 L650.2 233.7 L650.8 300.5 L651.5 224.5 L652.2 262.3 L652.8 267.1 L653.5 248.0 L654.2 243.2 L654.8 310.0 L655.5 238.5 L656.2 295.7 L656.8 225.5 L657.5 308.5" fill="none" stroke="rgb(255,99,132)" stroke-width="3.2" stroke-linejoin="round"/><g fill="rgba(170,60,90,0.18)" stroke="rgb(255,99,132)" stroke-opacity="0.55" stroke-width="1"><circle cx="57.5" cy="124.0" r="3"/><circle cx="58.2" cy="216.5" r="3"/><circle cx="58.8" cy="128.8" r="3"/><circle cx="59.5" cy="200.3" r="3"/><circle cx="60.2" cy="147.9" r="3"/><circle cx="60.8" cy="219.4" r="3"/><circle cx="61.5" cy="128.5" r="3"/><circle cx="62.2" cy="171.7" r="3"/><circle cx="62.8" cy="128.8" r="3"/><circle cx="63.5" cy="224.2" r="3"/><circle cx="64.2" cy="214.6" r="3"/><circle cx="64.8" cy="214.6" r="3"/><circle cx="65.5" cy="119.5" r="3"/><circle cx="66.2" cy="227.5" r="3"/><circle cx="66.8" cy="147.9" r="3"/><circle cx="67.5" cy="228.9" r="3"/><circle cx="68.2" cy="152.6" r="3"/><circle cx="68.8" cy="171.7" r="3"/><circle cx="69.5" cy="147.9" r="3"/><circle cx="70.2" cy="200.3" r="3"/><circle cx="70.8" cy="143.5" r="3"/><circle cx="71.5" cy="233.7" r="3"/><circle cx="72.2" cy="181.3" r="3"/><circle cx="72.9" cy="235.5" r="3"/><circle cx="73.5" cy="152.6" r="3"/><circle cx="74.2" cy="233.7" r="3"/><circle cx="74.9" cy="153.5" r="3"/><circle cx="75.5" cy="224.2" r="3"/><circle cx="76.2" cy="181.3" r="3"/><circle cx="76.9" cy="181.3" r="3"/><circle cx="77.5" cy="176.5" r="3"/><circle cx="78.2" cy="232.5" r="3"/><circle cx="78.9" cy="147.5" r="3"/><circle cx="79.5" cy="190.8" r="3"/><circle cx="80.2" cy="152.6" r="3"/><circle cx="80.9" cy="166.9" r="3"/><circle cx="81.5" cy="143.5" r="3"/><circle cx="82.2" cy="233.7" r="3"/><circle cx="82.9" cy="143.1" r="3"/><circle cx="83.5" cy="233.7" r="3"/><circle cx="84.2" cy="214.6" r="3"/><circle cx="84.9" cy="232.5" r="3"/><circle cx="85.5" cy="162.2" r="3"/><circle cx="86.2" cy="228.9" r="3"/><circle cx="86.9" cy="152.6" r="3"/><circle cx="87.5" cy="228.9" r="3"/><circle cx="88.2" cy="138.5" r="3"/><circle cx="88.9" cy="219.4" r="3"/><circle cx="89.5" cy="162.2" r="3"/><circle cx="90.2" cy="176.5" r="3"/><circle cx="90.9" cy="157.5" r="3"/><circle cx="91.5" cy="176.5" r="3"/><circle cx="92.2" cy="200.3" r="3"/><circle cx="92.9" cy="166.9" r="3"/><circle cx="93.5" cy="176.5" r="3"/><circle cx="94.2" cy="235.5" r="3"/><circle cx="94.9" cy="200.3" r="3"/><circle cx="95.5" cy="166.9" r="3"/><circle cx="96.2" cy="209.9" r="3"/><circle cx="96.9" cy="224.2" r="3"/><circle cx="97.5" cy="147.5" r="3"/><circle cx="98.2" cy="238.5" r="3"/><circle cx="98.9" cy="195.6" r="3"/><circle cx="99.5" cy="224.2" r="3"/><circle cx="100.2" cy="152.6" r="3"/><circle cx="100.9" cy="238.5" r="3"/><circle cx="101.5" cy="200.3" r="3"/><circle cx="102.2" cy="241.5" r="3"/><circle cx="102.9" cy="152.6" r="3"/><circle cx="103.6" cy="200.3" r="3"/><circle cx="104.2" cy="157.4" r="3"/><circle cx="104.9" cy="233.7" r="3"/><circle cx="105.6" cy="147.9" r="3"/><circle cx="106.2" cy="195.6" r="3"/><circle cx="106.9" cy="143.5" r="3"/><circle cx="107.6" cy="233.7" r="3"/><circle cx="108.2" cy="162.2" r="3"/><circle cx="108.9" cy="233.7" r="3"/><circle cx="109.6" cy="171.7" r="3"/><circle cx="110.2" cy="228.9" r="3"/><circle cx="110.9" cy="200.3" r="3"/><circle cx="111.6" cy="157.4" r="3"/><circle cx="112.2" cy="152.6" r="3"/><circle cx="112.9" cy="152.6" r="3"/><circle cx="113.6" cy="147.9" r="3"/><circle cx="114.2" cy="233.7" r="3"/><circle cx="114.9" cy="162.2" r="3"/><circle cx="115.6" cy="233.7" r="3"/><circle cx="116.2" cy="143.1" r="3"/><circle cx="116.9" cy="228.9" r="3"/><circle cx="117.6" cy="162.2" r="3"/><circle cx="118.2" cy="233.7" r="3"/><circle cx="118.9" cy="143.1" r="3"/><circle cx="119.6" cy="232.5" r="3"/><circle cx="120.2" cy="147.9" r="3"/><circle cx="120.9" cy="162.2" r="3"/><circle cx="121.6" cy="200.3" r="3"/><circle cx="122.2" cy="228.9" r="3"/><circle cx="122.9" cy="147.5" r="3"/><circle cx="123.6" cy="224.2" r="3"/><circle cx="124.2" cy="166.9" r="3"/><circle cx="124.9" cy="214.6" r="3"/><circle cx="125.6" cy="162.2" r="3"/><circle cx="126.2" cy="232.5" r="3"/><circle cx="126.9" cy="214.6" r="3"/><circle cx="127.6" cy="224.2" r="3"/><circle cx="128.2" cy="153.5" r="3"/><circle cx="128.9" cy="205.1" r="3"/><circle cx="129.6" cy="157.4" r="3"/><circle cx="130.2" cy="233.7" r="3"/><circle cx="130.9" cy="224.2" r="3"/><circle cx="131.6" cy="224.2" r="3"/><circle cx="132.2" cy="171.7" r="3"/><circle cx="132.9" cy="233.7" r="3"/><circle cx="133.6" cy="162.5" r="3"/><circle cx="134.3" cy="235.5" r="3"/><circle cx="134.9" cy="157.4" r="3"/><circle cx="135.6" cy="219.4" r="3"/><circle cx="136.3" cy="171.7" r="3"/><circle cx="136.9" cy="233.7" r="3"/><circle cx="137.6" cy="171.7" r="3"/><circle cx="138.3" cy="228.9" r="3"/><circle cx="138.9" cy="171.7" r="3"/><circle cx="139.6" cy="228.9" r="3"/><circle cx="140.3" cy="143.5" r="3"/><circle cx="140.9" cy="200.3" r="3"/><circle cx="141.6" cy="143.1" r="3"/><circle cx="142.3" cy="233.7" r="3"/><circle cx="142.9" cy="171.7" r="3"/><circle cx="143.6" cy="166.9" r="3"/><circle cx="144.3" cy="152.6" r="3"/><circle cx="144.9" cy="224.2" r="3"/><circle cx="145.6" cy="153.5" r="3"/><circle cx="146.3" cy="228.9" r="3"/><circle cx="146.9" cy="157.4" r="3"/><circle cx="147.6" cy="232.5" r="3"/><circle cx="148.3" cy="157.4" r="3"/><circle cx="148.9" cy="214.6" r="3"/><circle cx="149.6" cy="152.6" r="3"/><circle cx="150.3" cy="228.9" r="3"/><circle cx="150.9" cy="181.3" r="3"/><circle cx="151.6" cy="228.9" r="3"/><circle cx="152.3" cy="162.2" r="3"/><circle cx="152.9" cy="200.3" r="3"/><circle cx="153.6" cy="147.9" r="3"/><circle cx="154.3" cy="228.9" r="3"/><circle cx="154.9" cy="186.0" r="3"/><circle cx="155.6" cy="228.9" r="3"/><circle cx="156.3" cy="143.1" r="3"/><circle cx="156.9" cy="224.2" r="3"/><circle cx="157.6" cy="166.9" r="3"/><circle cx="158.3" cy="228.9" r="3"/><circle cx="158.9" cy="138.3" r="3"/><circle cx="159.6" cy="224.2" r="3"/><circle cx="160.3" cy="181.3" r="3"/><circle cx="160.9" cy="227.5" r="3"/><circle cx="161.6" cy="181.3" r="3"/><circle cx="162.3" cy="224.2" r="3"/><circle cx="163.0" cy="124.5" r="3"/><circle cx="163.6" cy="195.6" r="3"/><circle cx="164.3" cy="186.0" r="3"/><circle cx="165.0" cy="217.5" r="3"/><circle cx="165.6" cy="128.8" r="3"/><circle cx="166.3" cy="219.4" r="3"/><circle cx="167.0" cy="129.5" r="3"/><circle cx="167.6" cy="219.4" r="3"/><circle cx="168.3" cy="171.7" r="3"/><circle cx="169.0" cy="171.7" r="3"/><circle cx="169.6" cy="133.6" r="3"/><circle cx="170.3" cy="219.4" r="3"/><circle cx="171.0" cy="176.5" r="3"/><circle cx="171.6" cy="200.3" r="3"/><circle cx="172.3" cy="176.5" r="3"/><circle cx="173.0" cy="219.4" r="3"/><circle cx="173.6" cy="138.3" r="3"/><circle cx="174.3" cy="224.2" r="3"/><circle cx="175.0" cy="176.5" r="3"/><circle cx="175.6" cy="224.2" r="3"/><circle cx="176.3" cy="143.1" r="3"/><circle cx="177.0" cy="219.4" r="3"/><circle cx="177.6" cy="147.9" r="3"/><circle cx="178.3" cy="227.5" r="3"/><circle cx="179.0" cy="200.3" r="3"/><circle cx="179.6" cy="228.9" r="3"/><circle cx="180.3" cy="143.1" r="3"/><circle cx="181.0" cy="162.2" r="3"/><circle cx="181.6" cy="195.6" r="3"/><circle cx="182.3" cy="152.6" r="3"/><circle cx="183.0" cy="143.1" r="3"/><circle cx="183.6" cy="157.4" r="3"/><circle cx="184.3" cy="200.3" r="3"/><circle cx="185.0" cy="228.9" r="3"/><circle cx="185.6" cy="134.5" r="3"/><circle cx="186.3" cy="176.5" r="3"/><circle cx="187.0" cy="157.4" r="3"/><circle cx="187.6" cy="227.5" r="3"/><circle cx="188.3" cy="133.6" r="3"/><circle cx="189.0" cy="224.2" r="3"/><circle cx="189.6" cy="133.6" r="3"/><circle cx="190.3" cy="228.9" r="3"/><circle cx="191.0" cy="147.9" r="3"/><circle cx="191.6" cy="224.2" r="3"/><circle cx="192.3" cy="129.5" r="3"/><circle cx="193.0" cy="228.9" r="3"/><circle cx="193.7" cy="195.6" r="3"/><circle cx="194.3" cy="200.3" r="3"/><circle cx="195.0" cy="200.3" r="3"/><circle cx="195.7" cy="166.9" r="3"/><circle cx="196.3" cy="195.6" r="3"/><circle cx="197.0" cy="209.9" r="3"/><circle cx="197.7" cy="138.3" r="3"/><circle cx="198.3" cy="227.5" r="3"/><circle cx="199.0" cy="143.1" r="3"/><circle cx="199.7" cy="224.2" r="3"/><circle cx="200.3" cy="166.9" r="3"/><circle cx="201.0" cy="214.6" r="3"/><circle cx="201.7" cy="147.9" r="3"/><circle cx="202.3" cy="166.9" r="3"/><circle cx="203.0" cy="144.5" r="3"/><circle cx="203.7" cy="224.2" r="3"/><circle cx="204.3" cy="143.1" r="3"/><circle cx="205.0" cy="176.5" r="3"/><circle cx="205.7" cy="152.6" r="3"/><circle cx="206.3" cy="190.8" r="3"/><circle cx="207.0" cy="143.1" r="3"/><circle cx="207.7" cy="228.9" r="3"/><circle cx="208.3" cy="138.5" r="3"/><circle cx="209.0" cy="186.0" r="3"/><circle cx="209.7" cy="138.3" r="3"/><circle cx="210.3" cy="186.0" r="3"/><circle cx="211.0" cy="200.3" r="3"/><circle cx="211.7" cy="186.0" r="3"/><circle cx="212.3" cy="181.3" r="3"/><circle cx="213.0" cy="228.9" r="3"/><circle cx="213.7" cy="157.4" r="3"/><circle cx="214.3" cy="176.5" r="3"/><circle cx="215.0" cy="138.3" r="3"/><circle cx="215.7" cy="224.2" r="3"/><circle cx="216.3" cy="138.3" r="3"/><circle cx="217.0" cy="214.6" r="3"/><circle cx="217.7" cy="143.1" r="3"/><circle cx="218.3" cy="219.4" r="3"/><circle cx="219.0" cy="176.5" r="3"/><circle cx="219.7" cy="228.9" r="3"/><circle cx="220.3" cy="138.3" r="3"/><circle cx="221.0" cy="228.9" r="3"/><circle cx="221.7" cy="138.3" r="3"/><circle cx="222.3" cy="228.9" r="3"/><circle cx="223.0" cy="214.6" r="3"/><circle cx="223.7" cy="176.5" r="3"/><circle cx="224.4" cy="138.3" r="3"/><circle cx="225.0" cy="219.4" r="3"/><circle cx="225.7" cy="143.1" r="3"/><circle cx="226.4" cy="224.2" r="3"/><circle cx="227.0" cy="143.1" r="3"/><circle cx="227.7" cy="205.1" r="3"/><circle cx="228.4" cy="144.5" r="3"/><circle cx="229.0" cy="224.2" r="3"/><circle cx="229.7" cy="143.1" r="3"/><circle cx="230.4" cy="224.2" r="3"/><circle cx="231.0" cy="143.1" r="3"/><circle cx="231.7" cy="214.6" r="3"/><circle cx="232.4" cy="171.7" r="3"/><circle cx="233.0" cy="227.5" r="3"/><circle cx="233.7" cy="143.1" r="3"/><circle cx="234.4" cy="224.2" r="3"/><circle cx="235.0" cy="144.5" r="3"/><circle cx="235.7" cy="209.9" r="3"/><circle cx="236.4" cy="181.3" r="3"/><circle cx="237.0" cy="219.4" r="3"/><circle cx="237.7" cy="181.3" r="3"/><circle cx="238.4" cy="205.1" r="3"/><circle cx="239.0" cy="147.9" r="3"/><circle cx="239.7" cy="219.4" r="3"/><circle cx="240.4" cy="147.9" r="3"/><circle cx="241.0" cy="195.6" r="3"/><circle cx="241.7" cy="143.1" r="3"/><circle cx="242.4" cy="195.6" r="3"/><circle cx="243.0" cy="134.5" r="3"/><circle cx="243.7" cy="222.5" r="3"/><circle cx="244.4" cy="147.9" r="3"/><circle cx="245.0" cy="195.6" r="3"/><circle cx="245.7" cy="138.3" r="3"/><circle cx="246.4" cy="219.4" r="3"/><circle cx="247.0" cy="139.0" r="3"/><circle cx="247.7" cy="171.7" r="3"/><circle cx="248.4" cy="205.1" r="3"/><circle cx="249.0" cy="224.2" r="3"/><circle cx="249.7" cy="195.6" r="3"/><circle cx="250.4" cy="190.8" r="3"/><circle cx="251.0" cy="138.3" r="3"/><circle cx="251.7" cy="231.5" r="3"/><circle cx="252.4" cy="138.3" r="3"/><circle cx="253.1" cy="186.0" r="3"/><circle cx="253.7" cy="162.2" r="3"/><circle cx="254.4" cy="171.7" r="3"/><circle cx="255.1" cy="181.3" r="3"/><circle cx="255.7" cy="205.1" r="3"/><circle cx="256.4" cy="171.7" r="3"/><circle cx="257.1" cy="214.6" r="3"/><circle cx="257.7" cy="138.3" r="3"/><circle cx="258.4" cy="214.6" r="3"/><circle cx="259.1" cy="138.3" r="3"/><circle cx="259.7" cy="233.7" r="3"/><circle cx="260.4" cy="181.3" r="3"/><circle cx="261.1" cy="233.7" r="3"/><circle cx="261.7" cy="143.1" r="3"/><circle cx="262.4" cy="233.7" r="3"/><circle cx="263.1" cy="200.3" r="3"/><circle cx="263.7" cy="233.7" r="3"/><circle cx="264.4" cy="147.9" r="3"/><circle cx="265.1" cy="186.0" r="3"/><circle cx="265.7" cy="147.9" r="3"/><circle cx="266.4" cy="232.5" r="3"/><circle cx="267.1" cy="166.9" r="3"/><circle cx="267.7" cy="186.0" r="3"/><circle cx="268.4" cy="209.9" r="3"/><circle cx="269.1" cy="214.6" r="3"/><circle cx="269.7" cy="181.3" r="3"/><circle cx="270.4" cy="233.7" r="3"/><circle cx="271.1" cy="134.5" r="3"/><circle cx="271.7" cy="219.4" r="3"/><circle cx="272.4" cy="166.9" r="3"/><circle cx="273.1" cy="233.7" r="3"/><circle cx="273.7" cy="171.7" r="3"/><circle cx="274.4" cy="162.2" r="3"/><circle cx="275.1" cy="138.3" r="3"/><circle cx="275.7" cy="228.9" r="3"/><circle cx="276.4" cy="144.5" r="3"/><circle cx="277.1" cy="186.0" r="3"/><circle cx="277.7" cy="147.9" r="3"/><circle cx="278.4" cy="228.9" r="3"/><circle cx="279.1" cy="147.9" r="3"/><circle cx="279.7" cy="214.6" r="3"/><circle cx="280.4" cy="181.3" r="3"/><circle cx="281.1" cy="228.9" r="3"/><circle cx="281.7" cy="153.5" r="3"/><circle cx="282.4" cy="231.5" r="3"/><circle cx="283.1" cy="152.6" r="3"/><circle cx="283.8" cy="224.2" r="3"/><circle cx="284.4" cy="147.9" r="3"/><circle cx="285.1" cy="224.2" r="3"/><circle cx="285.8" cy="219.4" r="3"/><circle cx="286.4" cy="224.2" r="3"/><circle cx="287.1" cy="176.5" r="3"/><circle cx="287.8" cy="233.7" r="3"/><circle cx="288.4" cy="143.5" r="3"/><circle cx="289.1" cy="195.6" r="3"/><circle cx="289.8" cy="166.9" r="3"/><circle cx="290.4" cy="219.4" r="3"/><circle cx="291.1" cy="152.6" r="3"/><circle cx="291.8" cy="209.9" r="3"/><circle cx="292.4" cy="200.3" r="3"/><circle cx="293.1" cy="233.7" r="3"/><circle cx="293.8" cy="143.1" r="3"/><circle cx="294.4" cy="232.5" r="3"/><circle cx="295.1" cy="205.1" r="3"/><circle cx="295.8" cy="224.2" r="3"/><circle cx="296.4" cy="152.6" r="3"/><circle cx="297.1" cy="205.1" r="3"/><circle cx="297.8" cy="147.9" r="3"/><circle cx="298.4" cy="233.7" r="3"/><circle cx="299.1" cy="147.5" r="3"/><circle cx="299.8" cy="219.4" r="3"/><circle cx="300.4" cy="147.9" r="3"/><circle cx="301.1" cy="233.7" r="3"/><circle cx="301.8" cy="171.7" r="3"/><circle cx="302.4" cy="166.9" r="3"/><circle cx="303.1" cy="147.9" r="3"/><circle cx="303.8" cy="235.5" r="3"/><circle cx="304.4" cy="152.6" r="3"/><circle cx="305.1" cy="186.0" r="3"/><circle cx="305.8" cy="143.5" r="3"/><circle cx="306.4" cy="233.7" r="3"/><circle cx="307.1" cy="143.1" r="3"/><circle cx="307.8" cy="233.7" r="3"/><circle cx="308.4" cy="157.4" r="3"/><circle cx="309.1" cy="228.9" r="3"/><circle cx="309.8" cy="147.9" r="3"/><circle cx="310.4" cy="233.7" r="3"/><circle cx="311.1" cy="152.6" r="3"/><circle cx="311.8" cy="200.3" r="3"/><circle cx="312.4" cy="152.6" r="3"/><circle cx="313.1" cy="162.2" r="3"/><circle cx="313.8" cy="157.4" r="3"/><circle cx="314.5" cy="219.4" r="3"/><circle cx="315.1" cy="152.6" r="3"/><circle cx="315.8" cy="186.0" r="3"/><circle cx="316.5" cy="190.8" r="3"/><circle cx="317.1" cy="219.4" r="3"/><circle cx="317.8" cy="138.5" r="3"/><circle cx="318.5" cy="235.5" r="3"/><circle cx="319.1" cy="195.6" r="3"/><circle cx="319.8" cy="228.9" r="3"/><circle cx="320.5" cy="171.7" r="3"/><circle cx="321.1" cy="162.2" r="3"/><circle cx="321.8" cy="147.9" r="3"/><circle cx="322.5" cy="233.7" r="3"/><circle cx="323.1" cy="143.1" r="3"/><circle cx="323.8" cy="205.1" r="3"/><circle cx="324.5" cy="144.5" r="3"/><circle cx="325.1" cy="162.2" r="3"/><circle cx="325.8" cy="195.6" r="3"/><circle cx="326.5" cy="233.7" r="3"/><circle cx="327.1" cy="147.9" r="3"/><circle cx="327.8" cy="235.5" r="3"/><circle cx="328.5" cy="147.9" r="3"/><circle cx="329.1" cy="209.9" r="3"/><circle cx="329.8" cy="195.6" r="3"/><circle cx="330.5" cy="176.5" r="3"/><circle cx="331.1" cy="147.9" r="3"/><circle cx="331.8" cy="186.0" r="3"/><circle cx="332.5" cy="147.9" r="3"/><circle cx="333.1" cy="228.9" r="3"/><circle cx="333.8" cy="176.5" r="3"/><circle cx="334.5" cy="238.5" r="3"/><circle cx="335.1" cy="147.5" r="3"/><circle cx="335.8" cy="190.8" r="3"/><circle cx="336.5" cy="147.9" r="3"/><circle cx="337.1" cy="233.7" r="3"/><circle cx="337.8" cy="166.9" r="3"/><circle cx="338.5" cy="214.6" r="3"/><circle cx="339.1" cy="147.9" r="3"/><circle cx="339.8" cy="238.5" r="3"/><circle cx="340.5" cy="157.4" r="3"/><circle cx="341.1" cy="228.9" r="3"/><circle cx="341.8" cy="152.6" r="3"/><circle cx="342.5" cy="240.5" r="3"/><circle cx="343.2" cy="219.4" r="3"/><circle cx="343.8" cy="233.7" r="3"/><circle cx="344.5" cy="153.5" r="3"/><circle cx="345.2" cy="238.5" r="3"/><circle cx="345.8" cy="152.6" r="3"/><circle cx="346.5" cy="214.6" r="3"/><circle cx="347.2" cy="152.6" r="3"/><circle cx="347.8" cy="186.0" r="3"/><circle cx="348.5" cy="209.9" r="3"/><circle cx="349.2" cy="240.5" r="3"/><circle cx="349.8" cy="214.6" r="3"/><circle cx="350.5" cy="233.7" r="3"/><circle cx="351.2" cy="147.5" r="3"/><circle cx="351.8" cy="200.3" r="3"/><circle cx="352.5" cy="147.9" r="3"/><circle cx="353.2" cy="209.9" r="3"/><circle cx="353.8" cy="166.9" r="3"/><circle cx="354.5" cy="190.8" r="3"/><circle cx="355.2" cy="147.9" r="3"/><circle cx="355.8" cy="200.3" r="3"/><circle cx="356.5" cy="214.6" r="3"/><circle cx="357.2" cy="205.1" r="3"/><circle cx="357.8" cy="157.4" r="3"/><circle cx="358.5" cy="228.9" r="3"/><circle cx="359.2" cy="147.5" r="3"/><circle cx="359.8" cy="224.2" r="3"/><circle cx="360.5" cy="171.7" r="3"/><circle cx="361.2" cy="200.3" r="3"/><circle cx="361.8" cy="157.4" r="3"/><circle cx="362.5" cy="224.2" r="3"/><circle cx="363.2" cy="143.5" r="3"/><circle cx="363.8" cy="205.1" r="3"/><circle cx="364.5" cy="143.1" r="3"/><circle cx="365.2" cy="171.7" r="3"/><circle cx="365.8" cy="166.9" r="3"/><circle cx="366.5" cy="224.2" r="3"/><circle cx="367.2" cy="205.1" r="3"/><circle cx="367.8" cy="224.2" r="3"/><circle cx="368.5" cy="147.9" r="3"/><circle cx="369.2" cy="200.3" r="3"/><circle cx="369.8" cy="147.5" r="3"/><circle cx="370.5" cy="227.5" r="3"/><circle cx="371.2" cy="166.9" r="3"/><circle cx="371.8" cy="224.2" r="3"/><circle cx="372.5" cy="152.6" r="3"/><circle cx="373.2" cy="233.7" r="3"/><circle cx="373.9" cy="152.6" r="3"/><circle cx="374.5" cy="209.9" r="3"/><circle cx="375.2" cy="186.0" r="3"/><circle cx="375.9" cy="228.9" r="3"/><circle cx="376.5" cy="186.0" r="3"/><circle cx="377.2" cy="238.5" r="3"/><circle cx="377.9" cy="157.4" r="3"/><circle cx="378.5" cy="238.5" r="3"/><circle cx="379.2" cy="157.5" r="3"/><circle cx="379.9" cy="245.5" r="3"/><circle cx="380.5" cy="166.9" r="3"/><circle cx="381.2" cy="238.5" r="3"/><circle cx="381.9" cy="186.0" r="3"/><circle cx="382.5" cy="228.9" r="3"/><circle cx="383.2" cy="152.6" r="3"/><circle cx="383.9" cy="232.5" r="3"/><circle cx="384.5" cy="147.5" r="3"/><circle cx="385.2" cy="195.6" r="3"/><circle cx="385.9" cy="152.6" r="3"/><circle cx="386.5" cy="186.0" r="3"/><circle cx="387.2" cy="147.9" r="3"/><circle cx="387.9" cy="233.7" r="3"/><circle cx="388.5" cy="147.9" r="3"/><circle cx="389.2" cy="233.7" r="3"/><circle cx="389.9" cy="186.0" r="3"/><circle cx="390.5" cy="205.1" r="3"/><circle cx="391.2" cy="147.9" r="3"/><circle cx="391.9" cy="233.7" r="3"/><circle cx="392.5" cy="152.6" r="3"/><circle cx="393.2" cy="200.3" r="3"/><circle cx="393.9" cy="190.8" r="3"/><circle cx="394.5" cy="200.3" r="3"/><circle cx="395.2" cy="147.5" r="3"/><circle cx="395.9" cy="233.7" r="3"/><circle cx="396.5" cy="152.6" r="3"/><circle cx="397.2" cy="233.7" r="3"/><circle cx="397.9" cy="162.2" r="3"/><circle cx="398.5" cy="219.4" r="3"/><circle cx="399.2" cy="152.6" r="3"/><circle cx="399.9" cy="233.7" r="3"/><circle cx="400.5" cy="186.0" r="3"/><circle cx="401.2" cy="233.7" r="3"/><circle cx="401.9" cy="190.8" r="3"/><circle cx="402.6" cy="181.3" r="3"/><circle cx="403.2" cy="153.5" r="3"/><circle cx="403.9" cy="228.9" r="3"/><circle cx="404.6" cy="166.9" r="3"/><circle cx="405.2" cy="219.4" r="3"/><circle cx="405.9" cy="171.7" r="3"/><circle cx="406.6" cy="166.9" r="3"/><circle cx="407.2" cy="176.5" r="3"/><circle cx="407.9" cy="233.7" r="3"/><circle cx="408.6" cy="200.3" r="3"/><circle cx="409.2" cy="235.5" r="3"/><circle cx="409.9" cy="171.7" r="3"/><circle cx="410.6" cy="205.1" r="3"/><circle cx="411.2" cy="152.6" r="3"/><circle cx="411.9" cy="200.3" r="3"/><circle cx="412.6" cy="171.7" r="3"/><circle cx="413.2" cy="224.2" r="3"/><circle cx="413.9" cy="162.2" r="3"/><circle cx="414.6" cy="228.9" r="3"/><circle cx="415.2" cy="147.9" r="3"/><circle cx="415.9" cy="224.2" r="3"/><circle cx="416.6" cy="143.1" r="3"/><circle cx="417.2" cy="224.2" r="3"/><circle cx="417.9" cy="166.9" r="3"/><circle cx="418.6" cy="228.9" r="3"/><circle cx="419.2" cy="157.4" r="3"/><circle cx="419.9" cy="162.2" r="3"/><circle cx="420.6" cy="200.3" r="3"/><circle cx="421.2" cy="233.7" r="3"/><circle cx="421.9" cy="181.3" r="3"/><circle cx="422.6" cy="214.6" r="3"/><circle cx="423.2" cy="138.3" r="3"/><circle cx="423.9" cy="228.9" r="3"/><circle cx="424.6" cy="138.3" r="3"/><circle cx="425.2" cy="233.7" r="3"/><circle cx="425.9" cy="138.5" r="3"/><circle cx="426.6" cy="166.9" r="3"/><circle cx="427.2" cy="143.1" r="3"/><circle cx="427.9" cy="176.5" r="3"/><circle cx="428.6" cy="166.9" r="3"/><circle cx="429.2" cy="233.7" r="3"/><circle cx="429.9" cy="195.6" r="3"/><circle cx="430.6" cy="214.6" r="3"/><circle cx="431.2" cy="205.1" r="3"/><circle cx="431.9" cy="205.1" r="3"/><circle cx="432.6" cy="176.5" r="3"/><circle cx="433.3" cy="232.5" r="3"/><circle cx="433.9" cy="186.0" r="3"/><circle cx="434.6" cy="171.7" r="3"/><circle cx="435.3" cy="147.5" r="3"/><circle cx="435.9" cy="228.9" r="3"/><circle cx="436.6" cy="181.3" r="3"/><circle cx="437.3" cy="224.2" r="3"/><circle cx="437.9" cy="147.9" r="3"/><circle cx="438.6" cy="233.7" r="3"/><circle cx="439.3" cy="147.9" r="3"/><circle cx="439.9" cy="233.7" r="3"/><circle cx="440.6" cy="143.1" r="3"/><circle cx="441.3" cy="224.2" r="3"/><circle cx="441.9" cy="171.7" r="3"/><circle cx="442.6" cy="224.2" r="3"/><circle cx="443.3" cy="143.5" r="3"/><circle cx="443.9" cy="214.6" r="3"/><circle cx="444.6" cy="147.9" r="3"/><circle cx="445.3" cy="228.9" r="3"/><circle cx="445.9" cy="181.3" r="3"/><circle cx="446.6" cy="235.5" r="3"/><circle cx="447.3" cy="147.9" r="3"/><circle cx="447.9" cy="181.3" r="3"/><circle cx="448.6" cy="181.3" r="3"/><circle cx="449.3" cy="233.7" r="3"/><circle cx="449.9" cy="153.5" r="3"/><circle cx="450.6" cy="228.9" r="3"/><circle cx="451.3" cy="171.7" r="3"/><circle cx="451.9" cy="238.5" r="3"/><circle cx="452.6" cy="152.6" r="3"/><circle cx="453.3" cy="240.5" r="3"/><circle cx="453.9" cy="190.8" r="3"/><circle cx="454.6" cy="238.5" r="3"/><circle cx="455.3" cy="157.4" r="3"/><circle cx="455.9" cy="238.5" r="3"/><circle cx="456.6" cy="147.9" r="3"/><circle cx="457.3" cy="238.5" r="3"/><circle cx="457.9" cy="147.5" r="3"/><circle cx="458.6" cy="233.7" r="3"/><circle cx="459.3" cy="147.9" r="3"/><circle cx="459.9" cy="233.7" r="3"/><circle cx="460.6" cy="147.9" r="3"/><circle cx="461.3" cy="224.2" r="3"/><circle cx="461.9" cy="143.1" r="3"/><circle cx="462.6" cy="233.7" r="3"/><circle cx="463.3" cy="147.9" r="3"/><circle cx="464.0" cy="232.5" r="3"/><circle cx="464.6" cy="171.7" r="3"/><circle cx="465.3" cy="233.7" r="3"/><circle cx="466.0" cy="147.9" r="3"/><circle cx="466.6" cy="228.9" r="3"/><circle cx="467.3" cy="138.3" r="3"/><circle cx="468.0" cy="157.4" r="3"/><circle cx="468.6" cy="138.3" r="3"/><circle cx="469.3" cy="233.7" r="3"/><circle cx="470.0" cy="147.9" r="3"/><circle cx="470.6" cy="238.5" r="3"/><circle cx="471.3" cy="162.2" r="3"/><circle cx="472.0" cy="233.7" r="3"/><circle cx="472.6" cy="143.1" r="3"/><circle cx="473.3" cy="238.5" r="3"/><circle cx="474.0" cy="176.5" r="3"/><circle cx="474.6" cy="238.5" r="3"/><circle cx="475.3" cy="186.0" r="3"/><circle cx="476.0" cy="233.7" r="3"/><circle cx="476.6" cy="147.5" r="3"/><circle cx="477.3" cy="240.5" r="3"/><circle cx="478.0" cy="147.9" r="3"/><circle cx="478.6" cy="238.5" r="3"/><circle cx="479.3" cy="190.8" r="3"/><circle cx="480.0" cy="219.4" r="3"/><circle cx="480.6" cy="152.6" r="3"/><circle cx="481.3" cy="238.5" r="3"/><circle cx="482.0" cy="176.5" r="3"/><circle cx="482.6" cy="166.9" r="3"/><circle cx="483.3" cy="166.9" r="3"/><circle cx="484.0" cy="233.7" r="3"/><circle cx="484.6" cy="152.6" r="3"/><circle cx="485.3" cy="233.7" r="3"/><circle cx="486.0" cy="152.6" r="3"/><circle cx="486.6" cy="233.7" r="3"/><circle cx="487.3" cy="152.6" r="3"/><circle cx="488.0" cy="232.5" r="3"/><circle cx="488.6" cy="205.1" r="3"/><circle cx="489.3" cy="233.7" r="3"/><circle cx="490.0" cy="147.5" r="3"/><circle cx="490.6" cy="224.2" r="3"/><circle cx="491.3" cy="186.0" r="3"/><circle cx="492.0" cy="171.7" r="3"/><circle cx="492.7" cy="209.9" r="3"/><circle cx="493.3" cy="233.7" r="3"/><circle cx="494.0" cy="147.9" r="3"/><circle cx="494.7" cy="214.6" r="3"/><circle cx="495.3" cy="209.9" r="3"/><circle cx="496.0" cy="233.7" r="3"/><circle cx="496.7" cy="147.9" r="3"/><circle cx="497.3" cy="186.0" r="3"/><circle cx="498.0" cy="143.1" r="3"/><circle cx="498.7" cy="228.9" r="3"/><circle cx="499.3" cy="144.5" r="3"/><circle cx="500.0" cy="205.1" r="3"/><circle cx="500.7" cy="205.1" r="3"/><circle cx="501.3" cy="228.9" r="3"/><circle cx="502.0" cy="176.5" r="3"/><circle cx="502.7" cy="200.3" r="3"/><circle cx="503.3" cy="190.8" r="3"/><circle cx="504.0" cy="219.4" r="3"/><circle cx="504.7" cy="205.1" r="3"/><circle cx="505.3" cy="228.9" r="3"/><circle cx="506.0" cy="147.5" r="3"/><circle cx="506.7" cy="228.9" r="3"/><circle cx="507.3" cy="181.3" r="3"/><circle cx="508.0" cy="224.2" r="3"/><circle cx="508.7" cy="147.9" r="3"/><circle cx="509.3" cy="228.9" r="3"/><circle cx="510.0" cy="176.5" r="3"/><circle cx="510.7" cy="214.6" r="3"/><circle cx="511.3" cy="176.5" r="3"/><circle cx="512.0" cy="228.9" r="3"/><circle cx="512.7" cy="157.4" r="3"/><circle cx="513.3" cy="228.9" r="3"/><circle cx="514.0" cy="176.5" r="3"/><circle cx="514.7" cy="233.7" r="3"/><circle cx="515.3" cy="157.4" r="3"/><circle cx="516.0" cy="200.3" r="3"/><circle cx="516.7" cy="147.5" r="3"/><circle cx="517.3" cy="233.7" r="3"/><circle cx="518.0" cy="147.9" r="3"/><circle cx="518.7" cy="186.0" r="3"/><circle cx="519.3" cy="166.9" r="3"/><circle cx="520.0" cy="181.3" r="3"/><circle cx="520.7" cy="195.6" r="3"/><circle cx="521.3" cy="224.2" r="3"/><circle cx="522.0" cy="200.3" r="3"/><circle cx="522.7" cy="200.3" r="3"/><circle cx="523.4" cy="147.9" r="3"/><circle cx="524.0" cy="228.9" r="3"/><circle cx="524.7" cy="143.1" r="3"/><circle cx="525.4" cy="228.9" r="3"/><circle cx="526.0" cy="214.6" r="3"/><circle cx="526.7" cy="233.7" r="3"/><circle cx="527.4" cy="144.5" r="3"/><circle cx="528.0" cy="243.2" r="3"/><circle cx="528.7" cy="143.1" r="3"/><circle cx="529.4" cy="238.5" r="3"/><circle cx="530.0" cy="144.5" r="3"/><circle cx="530.7" cy="298.5" r="3"/><circle cx="531.4" cy="166.9" r="3"/><circle cx="532.0" cy="276.6" r="3"/><circle cx="532.7" cy="233.7" r="3"/><circle cx="533.4" cy="295.7" r="3"/><circle cx="534.0" cy="219.4" r="3"/><circle cx="534.7" cy="233.7" r="3"/><circle cx="535.4" cy="219.4" r="3"/><circle cx="536.0" cy="281.4" r="3"/><circle cx="536.7" cy="219.4" r="3"/><circle cx="537.4" cy="257.5" r="3"/><circle cx="538.0" cy="214.5" r="3"/><circle cx="538.7" cy="291.5" r="3"/><circle cx="539.4" cy="224.2" r="3"/><circle cx="540.0" cy="290.9" r="3"/><circle cx="540.7" cy="214.6" r="3"/><circle cx="541.4" cy="290.9" r="3"/><circle cx="542.0" cy="252.8" r="3"/><circle cx="542.7" cy="290.9" r="3"/><circle cx="543.4" cy="209.9" r="3"/><circle cx="544.0" cy="224.2" r="3"/><circle cx="544.7" cy="209.9" r="3"/><circle cx="545.4" cy="238.5" r="3"/><circle cx="546.0" cy="209.9" r="3"/><circle cx="546.7" cy="286.1" r="3"/><circle cx="547.4" cy="209.9" r="3"/><circle cx="548.0" cy="248.0" r="3"/><circle cx="548.7" cy="224.2" r="3"/><circle cx="549.4" cy="271.8" r="3"/><circle cx="550.0" cy="238.5" r="3"/><circle cx="550.7" cy="291.5" r="3"/><circle cx="551.4" cy="205.1" r="3"/><circle cx="552.0" cy="267.1" r="3"/><circle cx="552.7" cy="205.1" r="3"/><circle cx="553.4" cy="281.4" r="3"/><circle cx="554.1" cy="197.5" r="3"/><circle cx="554.7" cy="276.5" r="3"/><circle cx="555.4" cy="233.7" r="3"/><circle cx="556.1" cy="276.6" r="3"/><circle cx="556.7" cy="205.1" r="3"/><circle cx="557.4" cy="267.1" r="3"/><circle cx="558.1" cy="219.4" r="3"/><circle cx="558.7" cy="276.6" r="3"/><circle cx="559.4" cy="195.6" r="3"/><circle cx="560.1" cy="267.1" r="3"/><circle cx="560.7" cy="186.0" r="3"/><circle cx="561.4" cy="262.3" r="3"/><circle cx="562.1" cy="186.5" r="3"/><circle cx="562.7" cy="271.8" r="3"/><circle cx="563.4" cy="209.9" r="3"/><circle cx="564.1" cy="257.5" r="3"/><circle cx="564.7" cy="195.6" r="3"/><circle cx="565.4" cy="271.8" r="3"/><circle cx="566.1" cy="199.5" r="3"/><circle cx="566.7" cy="271.8" r="3"/><circle cx="567.4" cy="205.1" r="3"/><circle cx="568.1" cy="276.6" r="3"/><circle cx="568.7" cy="200.3" r="3"/><circle cx="569.4" cy="276.6" r="3"/><circle cx="570.1" cy="252.8" r="3"/><circle cx="570.7" cy="248.0" r="3"/><circle cx="571.4" cy="243.2" r="3"/><circle cx="572.1" cy="205.1" r="3"/><circle cx="572.7" cy="209.9" r="3"/><circle cx="573.4" cy="214.6" r="3"/><circle cx="574.1" cy="193.5" r="3"/><circle cx="574.7" cy="271.8" r="3"/><circle cx="575.4" cy="257.5" r="3"/><circle cx="576.1" cy="219.4" r="3"/><circle cx="576.7" cy="257.5" r="3"/><circle cx="577.4" cy="267.1" r="3"/><circle cx="578.1" cy="228.9" r="3"/><circle cx="578.7" cy="271.8" r="3"/><circle cx="579.4" cy="267.1" r="3"/><circle cx="580.1" cy="219.4" r="3"/><circle cx="580.7" cy="195.6" r="3"/><circle cx="581.4" cy="276.5" r="3"/><circle cx="582.1" cy="195.6" r="3"/><circle cx="582.8" cy="281.4" r="3"/><circle cx="583.4" cy="228.9" r="3"/><circle cx="584.1" cy="286.1" r="3"/><circle cx="584.8" cy="209.9" r="3"/><circle cx="585.4" cy="288.5" r="3"/><circle cx="586.1" cy="200.3" r="3"/><circle cx="586.8" cy="252.8" r="3"/><circle cx="587.4" cy="200.3" r="3"/><circle cx="588.1" cy="276.6" r="3"/><circle cx="588.8" cy="200.3" r="3"/><circle cx="589.4" cy="252.8" r="3"/><circle cx="590.1" cy="199.5" r="3"/><circle cx="590.8" cy="277.5" r="3"/><circle cx="591.4" cy="200.3" r="3"/><circle cx="592.1" cy="276.6" r="3"/><circle cx="592.8" cy="200.3" r="3"/><circle cx="593.4" cy="276.6" r="3"/><circle cx="594.1" cy="195.6" r="3"/><circle cx="594.8" cy="243.2" r="3"/><circle cx="595.4" cy="219.4" r="3"/><circle cx="596.1" cy="209.9" r="3"/><circle cx="596.8" cy="262.3" r="3"/><circle cx="597.4" cy="228.9" r="3"/><circle cx="598.1" cy="195.6" r="3"/><circle cx="598.8" cy="276.6" r="3"/><circle cx="599.4" cy="191.5" r="3"/><circle cx="600.1" cy="271.8" r="3"/><circle cx="600.8" cy="205.1" r="3"/><circle cx="601.4" cy="267.1" r="3"/><circle cx="602.1" cy="195.6" r="3"/><circle cx="602.8" cy="228.9" r="3"/><circle cx="603.4" cy="195.6" r="3"/><circle cx="604.1" cy="271.8" r="3"/><circle cx="604.8" cy="248.0" r="3"/><circle cx="605.4" cy="238.5" r="3"/><circle cx="606.1" cy="195.6" r="3"/><circle cx="606.8" cy="276.6" r="3"/><circle cx="607.4" cy="233.7" r="3"/><circle cx="608.1" cy="276.6" r="3"/><circle cx="608.8" cy="195.6" r="3"/><circle cx="609.4" cy="267.1" r="3"/><circle cx="610.1" cy="209.9" r="3"/><circle cx="610.8" cy="276.6" r="3"/><circle cx="611.4" cy="199.5" r="3"/><circle cx="612.1" cy="276.6" r="3"/><circle cx="612.8" cy="228.9" r="3"/><circle cx="613.5" cy="271.8" r="3"/><circle cx="614.1" cy="267.1" r="3"/><circle cx="614.8" cy="243.2" r="3"/><circle cx="615.5" cy="267.1" r="3"/><circle cx="616.1" cy="276.6" r="3"/><circle cx="616.8" cy="195.6" r="3"/><circle cx="617.5" cy="276.6" r="3"/><circle cx="618.1" cy="200.3" r="3"/><circle cx="618.8" cy="276.6" r="3"/><circle cx="619.5" cy="195.6" r="3"/><circle cx="620.1" cy="267.1" r="3"/><circle cx="620.8" cy="190.8" r="3"/><circle cx="621.5" cy="276.6" r="3"/><circle cx="622.1" cy="191.5" r="3"/><circle cx="622.8" cy="277.5" r="3"/><circle cx="623.5" cy="200.3" r="3"/><circle cx="624.1" cy="286.1" r="3"/><circle cx="624.8" cy="200.3" r="3"/><circle cx="625.5" cy="298.5" r="3"/><circle cx="626.1" cy="228.9" r="3"/><circle cx="626.8" cy="271.8" r="3"/><circle cx="627.5" cy="215.5" r="3"/><circle cx="628.1" cy="257.5" r="3"/><circle cx="628.8" cy="219.4" r="3"/><circle cx="629.5" cy="300.5" r="3"/><circle cx="630.1" cy="248.0" r="3"/><circle cx="630.8" cy="262.3" r="3"/><circle cx="631.5" cy="228.9" r="3"/><circle cx="632.1" cy="257.5" r="3"/><circle cx="632.8" cy="233.7" r="3"/><circle cx="633.5" cy="298.5" r="3"/><circle cx="634.1" cy="219.4" r="3"/><circle cx="634.8" cy="300.5" r="3"/><circle cx="635.5" cy="243.2" r="3"/><circle cx="636.1" cy="252.8" r="3"/><circle cx="636.8" cy="276.6" r="3"/><circle cx="637.5" cy="295.7" r="3"/><circle cx="638.1" cy="248.0" r="3"/><circle cx="638.8" cy="252.8" r="3"/><circle cx="639.5" cy="267.1" r="3"/><circle cx="640.1" cy="290.9" r="3"/><circle cx="640.8" cy="235.5" r="3"/><circle cx="641.5" cy="309.5" r="3"/><circle cx="642.1" cy="238.5" r="3"/><circle cx="642.8" cy="310.0" r="3"/><circle cx="643.5" cy="257.5" r="3"/><circle cx="644.2" cy="248.0" r="3"/><circle cx="644.8" cy="252.8" r="3"/><circle cx="645.5" cy="305.2" r="3"/><circle cx="646.2" cy="243.2" r="3"/><circle cx="646.8" cy="305.2" r="3"/><circle cx="647.5" cy="276.6" r="3"/><circle cx="648.2" cy="305.2" r="3"/><circle cx="648.8" cy="295.7" r="3"/><circle cx="649.5" cy="312.5" r="3"/><circle cx="650.2" cy="233.7" r="3"/><circle cx="650.8" cy="300.5" r="3"/><circle cx="651.5" cy="224.5" r="3"/><circle cx="652.2" cy="262.3" r="3"/><circle cx="652.8" cy="267.1" r="3"/><circle cx="653.5" cy="248.0" r="3"/><circle cx="654.2" cy="243.2" r="3"/><circle cx="654.8" cy="310.0" r="3"/><circle cx="655.5" cy="238.5" r="3"/><circle cx="656.2" cy="295.7" r="3"/><circle cx="656.8" cy="225.5" r="3"/><circle cx="657.5" cy="308.5" r="3"/></g>
<g stroke="#e8e8e8" stroke-width="1"><line x1="62.5" y1="515.5" x2="658" y2="515.5"/><line x1="62.5" y1="555.0" x2="658" y2="555.0"/><line x1="62.5" y1="595.0" x2="658" y2="595.0"/><line x1="62.5" y1="634.5" x2="658" y2="634.5"/><line x1="62.5" y1="675.0" x2="658" y2="675.0"/><line x1="62.5" y1="714.5" x2="658" y2="714.5"/><line x1="62.5" y1="754.7" x2="658" y2="754.7"/><line x1="72.5" y1="515.4" x2="72.5" y2="762.7"/><line x1="116.5" y1="515.4" x2="116.5" y2="762.7"/><line x1="200.3" y1="515.4" x2="200.3" y2="762.7"/><line x1="284.2" y1="515.4" x2="284.2" y2="762.7"/><line x1="368.0" y1="515.4" x2="368.0" y2="762.7"/><line x1="451.8" y1="515.4" x2="451.8" y2="762.7"/><line x1="535.6" y1="515.4" x2="535.6" y2="762.7"/><line x1="619.5" y1="515.4" x2="619.5" y2="762.7"/></g><g fill="#666" font-family="Liberation Sans, sans-serif" font-size="16.1" stroke="#666" stroke-width="0.15"><text x="62.2" y="520.5" text-anchor="end" textLength="45.3" lengthAdjust="spacingAndGlyphs">59.90</text><text x="62.2" y="560.0" text-anchor="end" textLength="45.3" lengthAdjust="spacingAndGlyphs">59.88</text><text x="62.2" y="600.0" text-anchor="end" textLength="45.3" lengthAdjust="spacingAndGlyphs">59.86</text><text x="62.2" y="639.5" text-anchor="end" textLength="45.3" lengthAdjust="spacingAndGlyphs">59.84</text><text x="62.2" y="680.0" text-anchor="end" textLength="45.3" lengthAdjust="spacingAndGlyphs">59.82</text><text x="62.2" y="719.5" text-anchor="end" textLength="45.3" lengthAdjust="spacingAndGlyphs">59.80</text><text x="62.2" y="759.7" text-anchor="end" textLength="45.3" lengthAdjust="spacingAndGlyphs">59.78</text><text x="116.5" y="776.7" text-anchor="middle" textLength="67" lengthAdjust="spacingAndGlyphs">2:11 pm</text><text x="200.3" y="776.7" text-anchor="middle" textLength="67" lengthAdjust="spacingAndGlyphs">2:13 pm</text><text x="284.2" y="776.7" text-anchor="middle" textLength="67" lengthAdjust="spacingAndGlyphs">2:15 pm</text><text x="368.0" y="776.7" text-anchor="middle" textLength="67" lengthAdjust="spacingAndGlyphs">2:17 pm</text><text x="451.8" y="776.7" text-anchor="middle" textLength="67" lengthAdjust="spacingAndGlyphs">2:19 pm</text><text x="535.6" y="776.7" text-anchor="middle" textLength="67" lengthAdjust="spacingAndGlyphs">2:21 pm</text><text x="619.5" y="776.7" text-anchor="middle" textLength="67" lengthAdjust="spacingAndGlyphs">2:23 pm</text></g><rect x="269.6" y="495.9" width="40.0" height="10.0" fill="#e8e8e8" stroke="rgb(153,102,255)" stroke-width="3"/><text x="316.1" y="505.0" fill="#666" font-family="Liberation Sans, sans-serif" font-size="11.6" textLength="107.5" lengthAdjust="spacingAndGlyphs">Grid Frequency (Hz)</text><path d="M72.5 681.5 L73.3 732.5 L74.2 681.5 L75.0 732.5 L75.8 698.2 L76.7 699.6 L77.5 688.9 L78.4 723.5 L79.2 714.7 L80.0 717.0 L80.9 711.1 L81.7 723.5 L82.5 690.5 L83.4 723.5 L84.2 661.5 L85.1 687.5 L85.9 658.6 L86.7 690.5 L87.6 652.5 L88.4 693.5 L89.2 665.1 L90.1 693.4 L90.9 663.0 L91.7 693.5 L92.6 634.5 L93.4 693.5 L94.3 634.5 L95.1 659.3 L95.9 634.5 L96.8 688.5 L97.6 676.5 L98.4 656.1 L99.3 637.5 L100.1 677.5 L101.0 646.5 L101.8 675.9 L102.6 647.1 L103.5 689.5 L104.3 653.1 L105.1 647.1 L106.0 629.5 L106.8 668.2 L107.7 632.6 L108.5 670.4 L109.3 639.9 L110.2 675.6 L111.0 648.4 L111.8 678.5 L112.7 644.5 L113.5 666.8 L114.3 638.5 L115.2 674.7 L116.0 671.4 L116.9 706.5 L117.7 674.5 L118.5 718.5 L119.4 674.5 L120.2 717.6 L121.0 704.5 L121.9 706.7 L122.7 638.5 L123.6 698.5 L124.4 646.5 L125.2 678.4 L126.1 657.1 L126.9 693.5 L127.7 659.0 L128.6 693.5 L129.4 652.5 L130.2 693.5 L131.1 649.9 L131.9 677.1 L132.8 644.5 L133.6 690.5 L134.4 646.2 L135.3 686.4 L136.1 650.6 L136.9 670.6 L137.8 647.1 L138.6 682.5 L139.5 616.5 L140.3 653.5 L141.1 610.5 L142.0 617.3 L142.8 603.5 L143.6 644.2 L144.5 615.6 L145.3 625.7 L146.1 616.9 L147.0 658.5 L147.8 625.4 L148.7 658.0 L149.5 625.5 L150.3 658.5 L151.2 615.7 L152.0 649.4 L152.8 615.3 L153.7 604.8 L154.5 595.5 L155.4 640.5 L156.2 635.2 L157.0 637.1 L157.9 608.5 L158.7 645.0 L159.5 622.2 L160.4 638.2 L161.2 627.4 L162.0 657.5 L162.9 628.5 L163.7 639.8 L164.6 629.7 L165.4 660.7 L166.2 631.5 L167.1 665.5 L167.9 641.4 L168.7 639.3 L169.6 629.5 L170.4 666.5 L171.3 629.0 L172.1 665.9 L172.9 628.2 L173.8 648.5 L174.6 627.5 L175.4 669.5 L176.3 665.2 L177.1 647.9 L178.0 627.5 L178.8 669.5 L179.6 638.1 L180.5 662.7 L181.3 647.4 L182.1 674.5 L183.0 651.5 L183.8 672.2 L184.6 649.1 L185.5 650.3 L186.3 663.5 L187.2 663.3 L188.0 644.5 L188.8 683.6 L189.7 644.5 L190.5 701.5 L191.3 666.2 L192.2 670.3 L193.0 646.0 L193.9 679.4 L194.7 644.5 L195.5 701.5 L196.4 656.9 L197.2 679.4 L198.0 648.3 L198.9 680.5 L199.7 648.5 L200.5 690.5 L201.4 656.5 L202.2 682.5 L203.1 652.0 L203.9 654.5 L204.7 649.1 L205.6 661.7 L206.4 631.5 L207.2 655.5 L208.1 633.2 L208.9 652.6 L209.8 638.8 L210.6 651.1 L211.4 645.7 L212.3 655.1 L213.1 645.5 L213.9 670.1 L214.8 664.5 L215.6 687.5 L216.4 663.5 L217.3 676.6 L218.1 678.4 L219.0 686.0 L219.8 658.5 L220.6 695.5 L221.5 672.6 L222.3 706.5 L223.1 678.1 L224.0 718.5 L224.8 700.6 L225.7 700.9 L226.5 647.5 L227.3 687.5 L228.2 657.5 L229.0 685.0 L229.8 656.7 L230.7 676.5 L231.5 635.5 L232.3 681.5 L233.2 639.3 L234.0 656.9 L234.9 636.0 L235.7 655.4 L236.5 624.5 L237.4 663.9 L238.2 627.9 L239.0 657.6 L239.9 627.7 L240.7 657.3 L241.6 629.5 L242.4 667.5 L243.2 626.3 L244.1 653.4 L244.9 611.5 L245.7 642.2 L246.6 607.6 L247.4 634.4 L248.3 591.5 L249.1 629.5 L249.9 595.5 L250.8 626.9 L251.6 600.6 L252.4 622.4 L253.3 597.9 L254.1 608.7 L254.9 600.0 L255.8 624.5 L256.6 597.5 L257.5 622.2 L258.3 593.2 L259.1 607.6 L260.0 587.5 L260.8 622.3 L261.6 592.5 L262.5 629.1 L263.3 589.1 L264.2 634.8 L265.0 580.5 L265.8 642.5 L266.7 609.1 L267.5 637.4 L268.3 610.5 L269.2 628.3 L270.0 595.7 L270.8 634.5 L271.7 602.1 L272.5 629.9 L273.4 596.5 L274.2 634.5 L275.0 599.2 L275.9 632.1 L276.7 610.8 L277.5 631.6 L278.4 560.5 L279.2 630.5 L280.1 568.0 L280.9 617.8 L281.7 551.5 L282.6 608.5 L283.4 562.2 L284.2 609.7 L285.1 580.2 L285.9 613.5 L286.7 575.5 L287.6 602.9 L288.4 601.1 L289.3 593.7 L290.1 591.9 L290.9 631.0 L291.8 595.5 L292.6 640.5 L293.4 597.5 L294.3 642.8 L295.1 595.5 L296.0 645.5 L296.8 596.0 L297.6 631.9 L298.5 595.5 L299.3 619.5 L300.1 595.5 L301.0 629.7 L301.8 615.9 L302.7 625.9 L303.5 610.2 L304.3 650.5 L305.2 617.3 L306.0 631.2 L306.8 637.9 L307.7 664.1 L308.5 630.5 L309.3 669.5 L310.2 663.2 L311.0 666.1 L311.9 635.5 L312.7 663.5 L313.5 637.9 L314.4 655.2 L315.2 617.5 L316.0 657.5 L316.9 626.4 L317.7 645.0 L318.6 604.5 L319.4 634.8 L320.2 604.7 L321.1 630.6 L321.9 605.8 L322.7 632.7 L323.6 603.5 L324.4 633.5 L325.2 599.6 L326.1 627.9 L326.9 593.5 L327.8 624.5 L328.6 611.5 L329.4 620.2 L330.3 592.5 L331.1 611.2 L331.9 591.5 L332.8 621.5 L333.6 600.6 L334.5 623.2 L335.3 594.6 L336.1 608.5 L337.0 593.2 L337.8 645.5 L338.6 614.2 L339.5 630.5 L340.3 591.5 L341.1 621.5 L342.0 592.5 L342.8 607.9 L343.7 601.0 L344.5 620.2 L345.3 595.5 L346.2 621.5 L347.0 624.5 L347.8 645.1 L348.7 605.8 L349.5 652.9 L350.4 605.5 L351.2 665.5 L352.0 609.7 L352.9 650.5 L353.7 631.1 L354.5 650.9 L355.4 617.8 L356.2 633.7 L357.0 621.5 L357.9 642.5 L358.7 614.0 L359.6 635.1 L360.4 639.4 L361.2 607.7 L362.1 595.5 L362.9 648.5 L363.7 623.0 L364.6 649.5 L365.4 612.0 L366.3 616.3 L367.1 607.5 L367.9 651.5 L368.8 608.0 L369.6 622.1 L370.4 607.6 L371.3 644.5 L372.1 607.5 L373.0 651.7 L373.8 619.3 L374.6 652.1 L375.5 617.4 L376.3 652.5 L377.1 616.7 L378.0 652.5 L378.8 617.0 L379.6 638.8 L380.5 607.5 L381.3 652.5 L382.2 613.8 L383.0 651.4 L383.8 621.2 L384.7 649.1 L385.5 619.5 L386.3 651.5 L387.2 609.0 L388.0 633.3 L388.9 594.5 L389.7 638.5 L390.5 598.2 L391.4 609.0 L392.2 599.5 L393.0 625.3 L393.9 595.5 L394.7 630.5 L395.5 595.4 L396.4 619.5 L397.2 598.1 L398.1 632.2 L398.9 593.6 L399.7 632.5 L400.6 561.5 L401.4 607.3 L402.2 575.7 L403.1 598.4 L403.9 569.6 L404.8 599.0 L405.6 574.5 L406.4 610.1 L407.3 592.8 L408.1 615.8 L408.9 606.5 L409.8 621.9 L410.6 608.5 L411.4 624.2 L412.3 610.3 L413.1 635.7 L414.0 612.5 L414.8 656.5 L415.6 643.5 L416.5 641.6 L417.3 600.7 L418.1 649.6 L419.0 593.5 L419.8 648.5 L420.7 627.2 L421.5 652.0 L422.3 622.5 L423.2 653.6 L424.0 626.2 L424.8 656.7 L425.7 633.5 L426.5 660.5 L427.3 630.5 L428.2 656.8 L429.0 636.1 L429.9 645.2 L430.7 626.7 L431.5 646.5 L432.4 601.5 L433.2 647.5 L434.0 593.5 L434.9 633.0 L435.7 569.5 L436.6 638.5 L437.4 575.8 L438.2 630.7 L439.1 583.4 L439.9 624.8 L440.7 613.0 L441.6 628.7 L442.4 611.7 L443.3 638.3 L444.1 607.5 L444.9 641.5 L445.8 611.1 L446.6 628.4 L447.4 605.5 L448.3 624.6 L449.1 597.1 L449.9 629.6 L450.8 577.5 L451.6 635.5 L452.5 609.1 L453.3 630.2 L454.1 572.1 L455.0 623.4 L455.8 567.3 L456.6 617.0 L457.5 561.5 L458.3 612.5 L459.2 563.2 L460.0 579.0 L460.8 567.0 L461.7 578.6 L462.5 569.5 L463.3 606.5 L464.2 573.5 L465.0 582.2 L465.8 574.3 L466.7 603.8 L467.5 577.9 L468.4 614.5 L469.2 586.6 L470.0 605.9 L470.9 567.1 L471.7 595.9 L472.5 557.5 L473.4 590.8 L474.2 557.6 L475.1 562.1 L475.9 556.0 L476.7 591.5 L477.6 553.5 L478.4 592.5 L479.2 567.9 L480.1 583.2 L480.9 562.1 L481.7 592.3 L482.6 568.5 L483.4 592.5 L484.3 588.4 L485.1 617.0 L485.9 606.5 L486.8 630.6 L487.6 602.8 L488.4 622.8 L489.3 600.8 L490.1 641.3 L491.0 595.5 L491.8 644.5 L492.6 612.1 L493.5 660.6 L494.3 621.1 L495.1 673.5 L496.0 650.8 L496.8 659.5 L497.7 645.0 L498.5 652.4 L499.3 598.5 L500.2 642.0 L501.0 596.2 L501.8 632.6 L502.7 584.3 L503.5 621.7 L504.3 573.8 L505.2 614.3 L506.0 564.5 L506.9 611.5 L507.7 568.1 L508.5 599.5 L509.4 571.5 L510.2 598.7 L511.0 581.6 L511.9 610.1 L512.7 594.1 L513.6 620.5 L514.4 612.1 L515.2 613.9 L516.1 602.4 L516.9 614.5 L517.7 577.0 L518.6 607.5 L519.4 561.5 L520.2 608.5 L521.1 560.0 L521.9 593.7 L522.8 565.8 L523.6 564.9 L524.4 546.7 L525.3 585.3 L526.1 536.5 L526.9 580.5 L527.8 539.5 L528.6 579.6 L529.5 545.8 L530.3 568.6 L531.1 556.5 L532.0 579.5 L532.8 558.6 L533.6 593.9 L534.5 566.0 L535.3 611.9 L536.1 573.5 L537.0 622.6 L537.8 588.8 L538.7 644.8 L539.5 617.2 L540.3 660.5 L541.2 621.4 L542.0 672.5 L542.8 630.5 L543.7 671.3 L544.5 635.9 L545.4 669.9 L546.2 641.5 L547.0 669.5 L547.9 641.5 L548.7 669.5 L549.5 640.3 L550.4 642.6 L551.2 601.5 L552.0 640.5 L552.9 611.3 L553.7 612.9 L554.6 606.5 L555.4 635.5 L556.2 592.8 L557.1 607.9 L557.9 577.5 L558.7 619.5 L559.6 575.6 L560.4 616.6 L561.3 573.4 L562.1 604.7 L562.9 569.5 L563.8 612.5 L564.6 542.5 L565.4 568.5 L566.3 545.2 L567.1 570.9 L568.0 548.8 L568.8 572.3 L569.6 553.5 L570.5 574.5 L571.3 558.9 L572.1 580.9 L573.0 558.9 L573.8 586.0 L574.6 560.8 L575.5 592.5 L576.3 563.0 L577.2 574.0 L578.0 548.5 L578.8 587.7 L579.7 552.0 L580.5 588.1 L581.3 558.4 L582.2 586.6 L583.0 577.2 L583.9 571.9 L584.7 545.3 L585.5 589.5 L586.4 544.5 L587.2 593.1 L588.0 556.1 L588.9 601.6 L589.7 561.5 L590.5 607.5 L591.4 567.1 L592.2 570.9 L593.1 564.5 L593.9 598.5 L594.7 573.9 L595.6 593.5 L596.4 549.5 L597.2 554.0 L598.1 542.5 L598.9 593.6 L599.8 563.0 L600.6 616.5 L601.4 574.4 L602.3 620.4 L603.1 580.8 L603.9 624.9 L604.8 592.7 L605.6 630.5 L606.4 606.5 L607.3 636.0 L608.1 595.6 L609.0 643.5 L609.8 595.5 L610.6 648.5 L611.5 628.1 L612.3 643.9 L613.1 618.3 L614.0 651.5 L614.8 622.8 L615.7 639.9 L616.5 568.5 L617.3 638.5 L618.2 574.6 L619.0 621.4 L619.8 617.6 L620.7 636.9 L621.5 598.5 L622.3 636.5 L623.2 607.4 L624.0 615.8 L624.9 598.5 L625.7 635.5 L626.5 600.2 L627.4 637.9 L628.2 604.3 L629.0 635.5 L629.9 602.9 L630.7 643.5 L631.6 601.7 L632.4 633.2 L633.2 595.5 L634.1 624.6 L634.9 608.1 L635.7 641.9 L636.6 625.5 L637.4 664.5 L638.3 641.1 L639.1 635.8 L639.9 632.6 L640.8 650.5 L641.6 622.5 L642.4 656.5 L643.3 618.0 L644.1 648.8 L644.9 605.5 L645.8 653.5 L646.6 610.5 L647.5 662.3 L648.3 620.4 L649.1 670.7 L650.0 637.0 L650.8 683.5 L651.6 650.5 L652.5 681.4 L653.3 667.5 L654.2 679.7 L655.0 647.3 L655.8 678.3 L656.7 633.5 L657.5 677.5" fill="none" stroke="rgb(153,102,255)" stroke-width="3.2" stroke-linejoin="round"/><g fill="rgba(90,50,170,0.3)" stroke="rgb(153,102,255)" stroke-opacity="0.55" stroke-width="1"><circle cx="72.5" cy="681.5" r="3"/><circle cx="73.3" cy="732.5" r="3"/><circle cx="74.2" cy="681.5" r="3"/><circle cx="75.0" cy="732.5" r="3"/><circle cx="75.8" cy="698.2" r="3"/><circle cx="76.7" cy="699.6" r="3"/><circle cx="77.5" cy="688.9" r="3"/><circle cx="78.4" cy="723.5" r="3"/><circle cx="79.2" cy="714.7" r="3"/><circle cx="80.0" cy="717.0" r="3"/><circle cx="80.9" cy="711.1" r="3"/><circle cx="81.7" cy="723.5" r="3"/><circle cx="82.5" cy="690.5" r="3"/><circle cx="83.4" cy="723.5" r="3"/><circle cx="84.2" cy="661.5" r="3"/><circle cx="85.1" cy="687.5" r="3"/><circle cx="85.9" cy="658.6" r="3"/><circle cx="86.7" cy="690.5" r="3"/><circle cx="87.6" cy="652.5" r="3"/><circle cx="88.4" cy="693.5" r="3"/><circle cx="89.2" cy="665.1" r="3"/><circle cx="90.1" cy="693.4" r="3"/><circle cx="90.9" cy="663.0" r="3"/><circle cx="91.7" cy="693.5" r="3"/><circle cx="92.6" cy="634.5" r="3"/><circle cx="93.4" cy="693.5" r="3"/><circle cx="94.3" cy="634.5" r="3"/><circle cx="95.1" cy="659.3" r="3"/><circle cx="95.9" cy="634.5" r="3"/><circle cx="96.8" cy="688.5" r="3"/><circle cx="97.6" cy="676.5" r="3"/><circle cx="98.4" cy="656.1" r="3"/><circle cx="99.3" cy="637.5" r="3"/><circle cx="100.1" cy="677.5" r="3"/><circle cx="101.0" cy="646.5" r="3"/><circle cx="101.8" cy="675.9" r="3"/><circle cx="102.6" cy="647.1" r="3"/><circle cx="103.5" cy="689.5" r="3"/><circle cx="104.3" cy="653.1" r="3"/><circle cx="105.1" cy="647.1" r="3"/><circle cx="106.0" cy="629.5" r="3"/><circle cx="106.8" cy="668.2" r="3"/><circle cx="107.7" cy="632.6" r="3"/><circle cx="108.5" cy="670.4" r="3"/><circle cx="109.3" cy="639.9" r="3"/><circle cx="110.2" cy="675.6" r="3"/><circle cx="111.0" cy="648.4" r="3"/><circle cx="111.8" cy="678.5" r="3"/><circle cx="112.7" cy="644.5" r="3"/><circle cx="113.5" cy="666.8" r="3"/><circle cx="114.3" cy="638.5" r="3"/><circle cx="115.2" cy="674.7" r="3"/><circle cx="116.0" cy="671.4" r="3"/><circle cx="116.9" cy="706.5" r="3"/><circle cx="117.7" cy="674.5" r="3"/><circle cx="118.5" cy="718.5" r="3"/><circle cx="119.4" cy="674.5" r="3"/><circle cx="120.2" cy="717.6" r="3"/><circle cx="121.0" cy="704.5" r="3"/><circle cx="121.9" cy="706.7" r="3"/><circle cx="122.7" cy="638.5" r="3"/><circle cx="123.6" cy="698.5" r="3"/><circle cx="124.4" cy="646.5" r="3"/><circle cx="125.2" cy="678.4" r="3"/><circle cx="126.1" cy="657.1" r="3"/><circle cx="126.9" cy="693.5" r="3"/><circle cx="127.7" cy="659.0" r="3"/><circle cx="128.6" cy="693.5" r="3"/><circle cx="129.4" cy="652.5" r="3"/><circle cx="130.2" cy="693.5" r="3"/><circle cx="131.1" cy="649.9" r="3"/><circle cx="131.9" cy="677.1" r="3"/><circle cx="132.8" cy="644.5" r="3"/><circle cx="133.6" cy="690.5" r="3"/><circle cx="134.4" cy="646.2" r="3"/><circle cx="135.3" cy="686.4" r="3"/><circle cx="136.1" cy="650.6" r="3"/><circle cx="136.9" cy="670.6" r="3"/><circle cx="137.8" cy="647.1" r="3"/><circle cx="138.6" cy="682.5" r="3"/><circle cx="139.5" cy="616.5" r="3"/><circle cx="140.3" cy="653.5" r="3"/><circle cx="141.1" cy="610.5" r="3"/><circle cx="142.0" cy="617.3" r="3"/><circle cx="142.8" cy="603.5" r="3"/><circle cx="143.6" cy="644.2" r="3"/><circle cx="144.5" cy="615.6" r="3"/><circle cx="145.3" cy="625.7" r="3"/><circle cx="146.1" cy="616.9" r="3"/><circle cx="147.0" cy="658.5" r="3"/><circle cx="147.8" cy="625.4" r="3"/><circle cx="148.7" cy="658.0" r="3"/><circle cx="149.5" cy="625.5" r="3"/><circle cx="150.3" cy="658.5" r="3"/><circle cx="151.2" cy="615.7" r="3"/><circle cx="152.0" cy="649.4" r="3"/><circle cx="152.8" cy="615.3" r="3"/><circle cx="153.7" cy="604.8" r="3"/><circle cx="154.5" cy="595.5" r="3"/><circle cx="155.4" cy="640.5" r="3"/><circle cx="156.2" cy="635.2" r="3"/><circle cx="157.0" cy="637.1" r="3"/><circle cx="157.9" cy="608.5" r="3"/><circle cx="158.7" cy="645.0" r="3"/><circle cx="159.5" cy="622.2" r="3"/><circle cx="160.4" cy="638.2" r="3"/><circle cx="161.2" cy="627.4" r="3"/><circle cx="162.0" cy="657.5" r="3"/><circle cx="162.9" cy="628.5" r="3"/><circle cx="163.7" cy="639.8" r="3"/><circle cx="164.6" cy="629.7" r="3"/><circle cx="165.4" cy="660.7" r="3"/><circle cx="166.2" cy="631.5" r="3"/><circle cx="167.1" cy="665.5" r="3"/><circle cx="167.9" cy="641.4" r="3"/><circle cx="168.7" cy="639.3" r="3"/><circle cx="169.6" cy="629.5" r="3"/><circle cx="170.4" cy="666.5" r="3"/><circle cx="171.3" cy="629.0" r="3"/><circle cx="172.1" cy="665.9" r="3"/><circle cx="172.9" cy="628.2" r="3"/><circle cx="173.8" cy="648.5" r="3"/><circle cx="174.6" cy="627.5" r="3"/><circle cx="175.4" cy="669.5" r="3"/><circle cx="176.3" cy="665.2" r="3"/><circle cx="177.1" cy="647.9" r="3"/><circle cx="178.0" cy="627.5" r="3"/><circle cx="178.8" cy="669.5" r="3"/><circle cx="179.6" cy="638.1" r="3"/><circle cx="180.5" cy="662.7" r="3"/><circle cx="181.3" cy="647.4" r="3"/><circle cx="182.1" cy="674.5" r="3"/><circle cx="183.0" cy="651.5" r="3"/><circle cx="183.8" cy="672.2" r="3"/><circle cx="184.6" cy="649.1" r="3"/><circle cx="185.5" cy="650.3" r="3"/><circle cx="186.3" cy="663.5" r="3"/><circle cx="187.2" cy="663.3" r="3"/><circle cx="188.0" cy="644.5" r="3"/><circle cx="188.8" cy="683.6" r="3"/><circle cx="189.7" cy="644.5" r="3"/><circle cx="190.5" cy="701.5" r="3"/><circle cx="191.3" cy="666.2" r="3"/><circle cx="192.2" cy="670.3" r="3"/><circle cx="193.0" cy="646.0" r="3"/><circle cx="193.9" cy="679.4" r="3"/><circle cx="194.7" cy="644.5" r="3"/><circle cx="195.5" cy="701.5" r="3"/><circle cx="196.4" cy="656.9" r="3"/><circle cx="197.2" cy="679.4" r="3"/><circle cx="198.0" cy="648.3" r="3"/><circle cx="198.9" cy="680.5" r="3"/><circle cx="199.7" cy="648.5" r="3"/><circle cx="200.5" cy="690.5" r="3"/><circle cx="201.4" cy="656.5" r="3"/><circle cx="202.2" cy="682.5" r="3"/><circle cx="203.1" cy="652.0" r="3"/><circle cx="203.9" cy="654.5" r="3"/><circle cx="204.7" cy="649.1" r="3"/><circle cx="205.6" cy="661.7" r="3"/><circle cx="206.4" cy="631.5" r="3"/><circle cx="207.2" cy="655.5" r="3"/><circle cx="208.1" cy="633.2" r="3"/><circle cx="208.9" cy="652.6" r="3"/><circle cx="209.8" cy="638.8" r="3"/><circle cx="210.6" cy="651.1" r="3"/><circle cx="211.4" cy="645.7" r="3"/><circle cx="212.3" cy="655.1" r="3"/><circle cx="213.1" cy="645.5" r="3"/><circle cx="213.9" cy="670.1" r="3"/><circle cx="214.8" cy="664.5" r="3"/><circle cx="215.6" cy="687.5" r="3"/><circle cx="216.4" cy="663.5" r="3"/><circle cx="217.3" cy="676.6" r="3"/><circle cx="218.1" cy="678.4" r="3"/><circle cx="219.0" cy="686.0" r="3"/><circle cx="219.8" cy="658.5" r="3"/><circle cx="220.6" cy="695.5" r="3"/><circle cx="221.5" cy="672.6" r="3"/><circle cx="222.3" cy="706.5" r="3"/><circle cx="223.1" cy="678.1" r="3"/><circle cx="224.0" cy="718.5" r="3"/><circle cx="224.8" cy="700.6" r="3"/><circle cx="225.7" cy="700.9" r="3"/><circle cx="226.5" cy="647.5" r="3"/><circle cx="227.3" cy="687.5" r="3"/><circle cx="228.2" cy="657.5" r="3"/><circle cx="229.0" cy="685.0" r="3"/><circle cx="229.8" cy="656.7" r="3"/><circle cx="230.7" cy="676.5" r="3"/><circle cx="231.5" cy="635.5" r="3"/><circle cx="232.3" cy="681.5" r="3"/><circle cx="233.2" cy="639.3" r="3"/><circle cx="234.0" cy="656.9" r="3"/><circle cx="234.9" cy="636.0" r="3"/><circle cx="235.7" cy="655.4" r="3"/><circle cx="236.5" cy="624.5" r="3"/><circle cx="237.4" cy="663.9" r="3"/><circle cx="238.2" cy="627.9" r="3"/><circle cx="239.0" cy="657.6" r="3"/><circle cx="239.9" cy="627.7" r="3"/><circle cx="240.7" cy="657.3" r="3"/><circle cx="241.6" cy="629.5" r="3"/><circle cx="242.4" cy="667.5" r="3"/><circle cx="243.2" cy="626.3" r="3"/><circle cx="244.1" cy="653.4" r="3"/><circle cx="244.9" cy="611.5" r="3"/><circle cx="245.7" cy="642.2" r="3"/><circle cx="246.6" cy="607.6" r="3"/><circle cx="247.4" cy="634.4" r="3"/><circle cx="248.3" cy="591.5" r="3"/><circle cx="249.1" cy="629.5" r="3"/><circle cx="249.9" cy="595.5" r="3"/><circle cx="250.8" cy="626.9" r="3"/><circle cx="251.6" cy="600.6" r="3"/><circle cx="252.4" cy="622.4" r="3"/><circle cx="253.3" cy="597.9" r="3"/><circle cx="254.1" cy="608.7" r="3"/><circle cx="254.9" cy="600.0" r="3"/><circle cx="255.8" cy="624.5" r="3"/><circle cx="256.6" cy="597.5" r="3"/><circle cx="257.5" cy="622.2" r="3"/><circle cx="258.3" cy="593.2" r="3"/><circle cx="259.1" cy="607.6" r="3"/><circle cx="260.0" cy="587.5" r="3"/><circle cx="260.8" cy="622.3" r="3"/><circle cx="261.6" cy="592.5" r="3"/><circle cx="262.5" cy="629.1" r="3"/><circle cx="263.3" cy="589.1" r="3"/><circle cx="264.2" cy="634.8" r="3"/><circle cx="265.0" cy="580.5" r="3"/><circle cx="265.8" cy="642.5" r="3"/><circle cx="266.7" cy="609.1" r="3"/><circle cx="267.5" cy="637.4" r="3"/><circle cx="268.3" cy="610.5" r="3"/><circle cx="269.2" cy="628.3" r="3"/><circle cx="270.0" cy="595.7" r="3"/><circle cx="270.8" cy="634.5" r="3"/><circle cx="271.7" cy="602.1" r="3"/><circle cx="272.5" cy="629.9" r="3"/><circle cx="273.4" cy="596.5" r="3"/><circle cx="274.2" cy="634.5" r="3"/><circle cx="275.0" cy="599.2" r="3"/><circle cx="275.9" cy="632.1" r="3"/><circle cx="276.7" cy="610.8" r="3"/><circle cx="277.5" cy="631.6" r="3"/><circle cx="278.4" cy="560.5" r="3"/><circle cx="279.2" cy="630.5" r="3"/><circle cx="280.1" cy="568.0" r="3"/><circle cx="280.9" cy="617.8" r="3"/><circle cx="281.7" cy="551.5" r="3"/><circle cx="282.6" cy="608.5" r="3"/><circle cx="283.4" cy="562.2" r="3"/><circle cx="284.2" cy="609.7" r="3"/><circle cx="285.1" cy="580.2" r="3"/><circle cx="285.9" cy="613.5" r="3"/><circle cx="286.7" cy="575.5" r="3"/><circle cx="287.6" cy="602.9" r="3"/><circle cx="288.4" cy="601.1" r="3"/><circle cx="289.3" cy="593.7" r="3"/><circle cx="290.1" cy="591.9" r="3"/><circle cx="290.9" cy="631.0" r="3"/><circle cx="291.8" cy="595.5" r="3"/><circle cx="292.6" cy="640.5" r="3"/><circle cx="293.4" cy="597.5" r="3"/><circle cx="294.3" cy="642.8" r="3"/><circle cx="295.1" cy="595.5" r="3"/><circle cx="296.0" cy="645.5" r="3"/><circle cx="296.8" cy="596.0" r="3"/><circle cx="297.6" cy="631.9" r="3"/><circle cx="298.5" cy="595.5" r="3"/><circle cx="299.3" cy="619.5" r="3"/><circle cx="300.1" cy="595.5" r="3"/><circle cx="301.0" cy="629.7" r="3"/><circle cx="301.8" cy="615.9" r="3"/><circle cx="302.7" cy="625.9" r="3"/><circle cx="303.5" cy="610.2" r="3"/><circle cx="304.3" cy="650.5" r="3"/><circle cx="305.2" cy="617.3" r="3"/><circle cx="306.0" cy="631.2" r="3"/><circle cx="306.8" cy="637.9" r="3"/><circle cx="307.7" cy="664.1" r="3"/><circle cx="308.5" cy="630.5" r="3"/><circle cx="309.3" cy="669.5" r="3"/><circle cx="310.2" cy="663.2" r="3"/><circle cx="311.0" cy="666.1" r="3"/><circle cx="311.9" cy="635.5" r="3"/><circle cx="312.7" cy="663.5" r="3"/><circle cx="313.5" cy="637.9" r="3"/><circle cx="314.4" cy="655.2" r="3"/><circle cx="315.2" cy="617.5" r="3"/><circle cx="316.0" cy="657.5" r="3"/><circle cx="316.9" cy="626.4" r="3"/><circle cx="317.7" cy="645.0" r="3"/><circle cx="318.6" cy="604.5" r="3"/><circle cx="319.4" cy="634.8" r="3"/><circle cx="320.2" cy="604.7" r="3"/><circle cx="321.1" cy="630.6" r="3"/><circle cx="321.9" cy="605.8" r="3"/><circle cx="322.7" cy="632.7" r="3"/><circle cx="323.6" cy="603.5" r="3"/><circle cx="324.4" cy="633.5" r="3"/><circle cx="325.2" cy="599.6" r="3"/><circle cx="326.1" cy="627.9" r="3"/><circle cx="326.9" cy="593.5" r="3"/><circle cx="327.8" cy="624.5" r="3"/><circle cx="328.6" cy="611.5" r="3"/><circle cx="329.4" cy="620.2" r="3"/><circle cx="330.3" cy="592.5" r="3"/><circle cx="331.1" cy="611.2" r="3"/><circle cx="331.9" cy="591.5" r="3"/><circle cx="332.8" cy="621.5" r="3"/><circle cx="333.6" cy="600.6" r="3"/><circle cx="334.5" cy="623.2" r="3"/><circle cx="335.3" cy="594.6" r="3"/><circle cx="336.1" cy="608.5" r="3"/><circle cx="337.0" cy="593.2" r="3"/><circle cx="337.8" cy="645.5" r="3"/><circle cx="338.6" cy="614.2" r="3"/><circle cx="339.5" cy="630.5" r="3"/><circle cx="340.3" cy="591.5" r="3"/><circle cx="341.1" cy="621.5" r="3"/><circle cx="342.0" cy="592.5" r="3"/><circle cx="342.8" cy="607.9" r="3"/><circle cx="343.7" cy="601.0" r="3"/><circle cx="344.5" cy="620.2" r="3"/><circle cx="345.3" cy="595.5" r="3"/><circle cx="346.2" cy="621.5" r="3"/><circle cx="347.0" cy="624.5" r="3"/><circle cx="347.8" cy="645.1" r="3"/><circle cx="348.7" cy="605.8" r="3"/><circle cx="349.5" cy="652.9" r="3"/><circle cx="350.4" cy="605.5" r="3"/><circle cx="351.2" cy="665.5" r="3"/><circle cx="352.0" cy="609.7" r="3"/><circle cx="352.9" cy="650.5" r="3"/><circle cx="353.7" cy="631.1" r="3"/><circle cx="354.5" cy="650.9" r="3"/><circle cx="355.4" cy="617.8" r="3"/><circle cx="356.2" cy="633.7" r="3"/><circle cx="357.0" cy="621.5" r="3"/><circle cx="357.9" cy="642.5" r="3"/><circle cx="358.7" cy="614.0" r="3"/><circle cx="359.6" cy="635.1" r="3"/><circle cx="360.4" cy="639.4" r="3"/><circle cx="361.2" cy="607.7" r="3"/><circle cx="362.1" cy="595.5" r="3"/><circle cx="362.9" cy="648.5" r="3"/><circle cx="363.7" cy="623.0" r="3"/><circle cx="364.6" cy="649.5" r="3"/><circle cx="365.4" cy="612.0" r="3"/><circle cx="366.3" cy="616.3" r="3"/><circle cx="367.1" cy="607.5" r="3"/><circle cx="367.9" cy="651.5" r="3"/><circle cx="368.8" cy="608.0" r="3"/><circle cx="369.6" cy="622.1" r="3"/><circle cx="370.4" cy="607.6" r="3"/><circle cx="371.3" cy="644.5" r="3"/><circle cx="372.1" cy="607.5" r="3"/><circle cx="373.0" cy="651.7" r="3"/><circle cx="373.8" cy="619.3" r="3"/><circle cx="374.6" cy="652.1" r="3"/><circle cx="375.5" cy="617.4" r="3"/><circle cx="376.3" cy="652.5" r="3"/><circle cx="377.1" cy="616.7" r="3"/><circle cx="378.0" cy="652.5" r="3"/><circle cx="378.8" cy="617.0" r="3"/><circle cx="379.6" cy="638.8" r="3"/><circle cx="380.5" cy="607.5" r="3"/><circle cx="381.3" cy="652.5" r="3"/><circle cx="382.2" cy="613.8" r="3"/><circle cx="383.0" cy="651.4" r="3"/><circle cx="383.8" cy="621.2" r="3"/><circle cx="384.7" cy="649.1" r="3"/><circle cx="385.5" cy="619.5" r="3"/><circle cx="386.3" cy="651.5" r="3"/><circle cx="387.2" cy="609.0" r="3"/><circle cx="388.0" cy="633.3" r="3"/><circle cx="388.9" cy="594.5" r="3"/><circle cx="389.7" cy="638.5" r="3"/><circle cx="390.5" cy="598.2" r="3"/><circle cx="391.4" cy="609.0" r="3"/><circle cx="392.2" cy="599.5" r="3"/><circle cx="393.0" cy="625.3" r="3"/><circle cx="393.9" cy="595.5" r="3"/><circle cx="394.7" cy="630.5" r="3"/><circle cx="395.5" cy="595.4" r="3"/><circle cx="396.4" cy="619.5" r="3"/><circle cx="397.2" cy="598.1" r="3"/><circle cx="398.1" cy="632.2" r="3"/><circle cx="398.9" cy="593.6" r="3"/><circle cx="399.7" cy="632.5" r="3"/><circle cx="400.6" cy="561.5" r="3"/><circle cx="401.4" cy="607.3" r="3"/><circle cx="402.2" cy="575.7" r="3"/><circle cx="403.1" cy="598.4" r="3"/><circle cx="403.9" cy="569.6" r="3"/><circle cx="404.8" cy="599.0" r="3"/><circle cx="405.6" cy="574.5" r="3"/><circle cx="406.4" cy="610.1" r="3"/><circle cx="407.3" cy="592.8" r="3"/><circle cx="408.1" cy="615.8" r="3"/><circle cx="408.9" cy="606.5" r="3"/><circle cx="409.8" cy="621.9" r="3"/><circle cx="410.6" cy="608.5" r="3"/><circle cx="411.4" cy="624.2" r="3"/><circle cx="412.3" cy="610.3" r="3"/><circle cx="413.1" cy="635.7" r="3"/><circle cx="414.0" cy="612.5" r="3"/><circle cx="414.8" cy="656.5" r="3"/><circle cx="415.6" cy="643.5" r="3"/><circle cx="416.5" cy="641.6" r="3"/><circle cx="417.3" cy="600.7" r="3"/><circle cx="418.1" cy="649.6" r="3"/><circle cx="419.0" cy="593.5" r="3"/><circle cx="419.8" cy="648.5" r="3"/><circle cx="420.7" cy="627.2" r="3"/><circle cx="421.5" cy="652.0" r="3"/><circle cx="422.3" cy="622.5" r="3"/><circle cx="423.2" cy="653.6" r="3"/><circle cx="424.0" cy="626.2" r="3"/><circle cx="424.8" cy="656.7" r="3"/><circle cx="425.7" cy="633.5" r="3"/><circle cx="426.5" cy="660.5" r="3"/><circle cx="427.3" cy="630.5" r="3"/><circle cx="428.2" cy="656.8" r="3"/><circle cx="429.0" cy="636.1" r="3"/><circle cx="429.9" cy="645.2" r="3"/><circle cx="430.7" cy="626.7" r="3"/><circle cx="431.5" cy="646.5" r="3"/><circle cx="432.4" cy="601.5" r="3"/><circle cx="433.2" cy="647.5" r="3"/><circle cx="434.0" cy="593.5" r="3"/><circle cx="434.9" cy="633.0" r="3"/><circle cx="435.7" cy="569.5" r="3"/><circle cx="436.6" cy="638.5" r="3"/><circle cx="437.4" cy="575.8" r="3"/><circle cx="438.2" cy="630.7" r="3"/><circle cx="439.1" cy="583.4" r="3"/><circle cx="439.9" cy="624.8" r="3"/><circle cx="440.7" cy="613.0" r="3"/><circle cx="441.6" cy="628.7" r="3"/><circle cx="442.4" cy="611.7" r="3"/><circle cx="443.3" cy="638.3" r="3"/><circle cx="444.1" cy="607.5" r="3"/><circle cx="444.9" cy="641.5" r="3"/><circle cx="445.8" cy="611.1" r="3"/><circle cx="446.6" cy="628.4" r="3"/><circle cx="447.4" cy="605.5" r="3"/><circle cx="448.3" cy="624.6" r="3"/><circle cx="449.1" cy="597.1" r="3"/><circle cx="449.9" cy="629.6" r="3"/><circle cx="450.8" cy="577.5" r="3"/><circle cx="451.6" cy="635.5" r="3"/><circle cx="452.5" cy="609.1" r="3"/><circle cx="453.3" cy="630.2" r="3"/><circle cx="454.1" cy="572.1" r="3"/><circle cx="455.0" cy="623.4" r="3"/><circle cx="455.8" cy="567.3" r="3"/><circle cx="456.6" cy="617.0" r="3"/><circle cx="457.5" cy="561.5" r="3"/><circle cx="458.3" cy="612.5" r="3"/><circle cx="459.2" cy="563.2" r="3"/><circle cx="460.0" cy="579.0" r="3"/><circle cx="460.8" cy="567.0" r="3"/><circle cx="461.7" cy="578.6" r="3"/><circle cx="462.5" cy="569.5" r="3"/><circle cx="463.3" cy="606.5" r="3"/><circle cx="464.2" cy="573.5" r="3"/><circle cx="465.0" cy="582.2" r="3"/><circle cx="465.8" cy="574.3" r="3"/><circle cx="466.7" cy="603.8" r="3"/><circle cx="467.5" cy="577.9" r="3"/><circle cx="468.4" cy="614.5" r="3"/><circle cx="469.2" cy="586.6" r="3"/><circle cx="470.0" cy="605.9" r="3"/><circle cx="470.9" cy="567.1" r="3"/><circle cx="471.7" cy="595.9" r="3"/><circle cx="472.5" cy="557.5" r="3"/><circle cx="473.4" cy="590.8" r="3"/><circle cx="474.2" cy="557.6" r="3"/><circle cx="475.1" cy="562.1" r="3"/><circle cx="475.9" cy="556.0" r="3"/><circle cx="476.7" cy="591.5" r="3"/><circle cx="477.6" cy="553.5" r="3"/><circle cx="478.4" cy="592.5" r="3"/><circle cx="479.2" cy="567.9" r="3"/><circle cx="480.1" cy="583.2" r="3"/><circle cx="480.9" cy="562.1" r="3"/><circle cx="481.7" cy="592.3" r="3"/><circle cx="482.6" cy="568.5" r="3"/><circle cx="483.4" cy="592.5" r="3"/><circle cx="484.3" cy="588.4" r="3"/><circle cx="485.1" cy="617.0" r="3"/><circle cx="485.9" cy="606.5" r="3"/><circle cx="486.8" cy="630.6" r="3"/><circle cx="487.6" cy="602.8" r="3"/><circle cx="488.4" cy="622.8" r="3"/><circle cx="489.3" cy="600.8" r="3"/><circle cx="490.1" cy="641.3" r="3"/><circle cx="491.0" cy="595.5" r="3"/><circle cx="491.8" cy="644.5" r="3"/><circle cx="492.6" cy="612.1" r="3"/><circle cx="493.5" cy="660.6" r="3"/><circle cx="494.3" cy="621.1" r="3"/><circle cx="495.1" cy="673.5" r="3"/><circle cx="496.0" cy="650.8" r="3"/><circle cx="496.8" cy="659.5" r="3"/><circle cx="497.7" cy="645.0" r="3"/><circle cx="498.5" cy="652.4" r="3"/><circle cx="499.3" cy="598.5" r="3"/><circle cx="500.2" cy="642.0" r="3"/><circle cx="501.0" cy="596.2" r="3"/><circle cx="501.8" cy="632.6" r="3"/><circle cx="502.7" cy="584.3" r="3"/><circle cx="503.5" cy="621.7" r="3"/><circle cx="504.3" cy="573.8" r="3"/><circle cx="505.2" cy="614.3" r="3"/><circle cx="506.0" cy="564.5" r="3"/><circle cx="506.9" cy="611.5" r="3"/><circle cx="507.7" cy="568.1" r="3"/><circle cx="508.5" cy="599.5" r="3"/><circle cx="509.4" cy="571.5" r="3"/><circle cx="510.2" cy="598.7" r="3"/><circle cx="511.0" cy="581.6" r="3"/><circle cx="511.9" cy="610.1" r="3"/><circle cx="512.7" cy="594.1" r="3"/><circle cx="513.6" cy="620.5" r="3"/><circle cx="514.4" cy="612.1" r="3"/><circle cx="515.2" cy="613.9" r="3"/><circle cx="516.1" cy="602.4" r="3"/><circle cx="516.9" cy="614.5" r="3"/><circle cx="517.7" cy="577.0" r="3"/><circle cx="518.6" cy="607.5" r="3"/><circle cx="519.4" cy="561.5" r="3"/><circle cx="520.2" cy="608.5" r="3"/><circle cx="521.1" cy="560.0" r="3"/><circle cx="521.9" cy="593.7" r="3"/><circle cx="522.8" cy="565.8" r="3"/><circle cx="523.6" cy="564.9" r="3"/><circle cx="524.4" cy="546.7" r="3"/><circle cx="525.3" cy="585.3" r="3"/><circle cx="526.1" cy="536.5" r="3"/><circle cx="526.9" cy="580.5" r="3"/><circle cx="527.8" cy="539.5" r="3"/><circle cx="528.6" cy="579.6" r="3"/><circle cx="529.5" cy="545.8" r="3"/><circle cx="530.3" cy="568.6" r="3"/><circle cx="531.1" cy="556.5" r="3"/><circle cx="532.0" cy="579.5" r="3"/><circle cx="532.8" cy="558.6" r="3"/><circle cx="533.6" cy="593.9" r="3"/><circle cx="534.5" cy="566.0" r="3"/><circle cx="535.3" cy="611.9" r="3"/><circle cx="536.1" cy="573.5" r="3"/><circle cx="537.0" cy="622.6" r="3"/><circle cx="537.8" cy="588.8" r="3"/><circle cx="538.7" cy="644.8" r="3"/><circle cx="539.5" cy="617.2" r="3"/><circle cx="540.3" cy="660.5" r="3"/><circle cx="541.2" cy="621.4" r="3"/><circle cx="542.0" cy="672.5" r="3"/><circle cx="542.8" cy="630.5" r="3"/><circle cx="543.7" cy="671.3" r="3"/><circle cx="544.5" cy="635.9" r="3"/><circle cx="545.4" cy="669.9" r="3"/><circle cx="546.2" cy="641.5" r="3"/><circle cx="547.0" cy="669.5" r="3"/><circle cx="547.9" cy="641.5" r="3"/><circle cx="548.7" cy="669.5" r="3"/><circle cx="549.5" cy="640.3" r="3"/><circle cx="550.4" cy="642.6" r="3"/><circle cx="551.2" cy="601.5" r="3"/><circle cx="552.0" cy="640.5" r="3"/><circle cx="552.9" cy="611.3" r="3"/><circle cx="553.7" cy="612.9" r="3"/><circle cx="554.6" cy="606.5" r="3"/><circle cx="555.4" cy="635.5" r="3"/><circle cx="556.2" cy="592.8" r="3"/><circle cx="557.1" cy="607.9" r="3"/><circle cx="557.9" cy="577.5" r="3"/><circle cx="558.7" cy="619.5" r="3"/><circle cx="559.6" cy="575.6" r="3"/><circle cx="560.4" cy="616.6" r="3"/><circle cx="561.3" cy="573.4" r="3"/><circle cx="562.1" cy="604.7" r="3"/><circle cx="562.9" cy="569.5" r="3"/><circle cx="563.8" cy="612.5" r="3"/><circle cx="564.6" cy="542.5" r="3"/><circle cx="565.4" cy="568.5" r="3"/><circle cx="566.3" cy="545.2" r="3"/><circle cx="567.1" cy="570.9" r="3"/><circle cx="568.0" cy="548.8" r="3"/><circle cx="568.8" cy="572.3" r="3"/><circle cx="569.6" cy="553.5" r="3"/><circle cx="570.5" cy="574.5" r="3"/><circle cx="571.3" cy="558.9" r="3"/><circle cx="572.1" cy="580.9" r="3"/><circle cx="573.0" cy="558.9" r="3"/><circle cx="573.8" cy="586.0" r="3"/><circle cx="574.6" cy="560.8" r="3"/><circle cx="575.5" cy="592.5" r="3"/><circle cx="576.3" cy="563.0" r="3"/><circle cx="577.2" cy="574.0" r="3"/><circle cx="578.0" cy="548.5" r="3"/><circle cx="578.8" cy="587.7" r="3"/><circle cx="579.7" cy="552.0" r="3"/><circle cx="580.5" cy="588.1" r="3"/><circle cx="581.3" cy="558.4" r="3"/><circle cx="582.2" cy="586.6" r="3"/><circle cx="583.0" cy="577.2" r="3"/><circle cx="583.9" cy="571.9" r="3"/><circle cx="584.7" cy="545.3" r="3"/><circle cx="585.5" cy="589.5" r="3"/><circle cx="586.4" cy="544.5" r="3"/><circle cx="587.2" cy="593.1" r="3"/><circle cx="588.0" cy="556.1" r="3"/><circle cx="588.9" cy="601.6" r="3"/><circle cx="589.7" cy="561.5" r="3"/><circle cx="590.5" cy="607.5" r="3"/><circle cx="591.4" cy="567.1" r="3"/><circle cx="592.2" cy="570.9" r="3"/><circle cx="593.1" cy="564.5" r="3"/><circle cx="593.9" cy="598.5" r="3"/><circle cx="594.7" cy="573.9" r="3"/><circle cx="595.6" cy="593.5" r="3"/><circle cx="596.4" cy="549.5" r="3"/><circle cx="597.2" cy="554.0" r="3"/><circle cx="598.1" cy="542.5" r="3"/><circle cx="598.9" cy="593.6" r="3"/><circle cx="599.8" cy="563.0" r="3"/><circle cx="600.6" cy="616.5" r="3"/><circle cx="601.4" cy="574.4" r="3"/><circle cx="602.3" cy="620.4" r="3"/><circle cx="603.1" cy="580.8" r="3"/><circle cx="603.9" cy="624.9" r="3"/><circle cx="604.8" cy="592.7" r="3"/><circle cx="605.6" cy="630.5" r="3"/><circle cx="606.4" cy="606.5" r="3"/><circle cx="607.3" cy="636.0" r="3"/><circle cx="608.1" cy="595.6" r="3"/><circle cx="609.0" cy="643.5" r="3"/><circle cx="609.8" cy="595.5" r="3"/><circle cx="610.6" cy="648.5" r="3"/><circle cx="611.5" cy="628.1" r="3"/><circle cx="612.3" cy="643.9" r="3"/><circle cx="613.1" cy="618.3" r="3"/><circle cx="614.0" cy="651.5" r="3"/><circle cx="614.8" cy="622.8" r="3"/><circle cx="615.7" cy="639.9" r="3"/><circle cx="616.5" cy="568.5" r="3"/><circle cx="617.3" cy="638.5" r="3"/><circle cx="618.2" cy="574.6" r="3"/><circle cx="619.0" cy="621.4" r="3"/><circle cx="619.8" cy="617.6" r="3"/><circle cx="620.7" cy="636.9" r="3"/><circle cx="621.5" cy="598.5" r="3"/><circle cx="622.3" cy="636.5" r="3"/><circle cx="623.2" cy="607.4" r="3"/><circle cx="624.0" cy="615.8" r="3"/><circle cx="624.9" cy="598.5" r="3"/><circle cx="625.7" cy="635.5" r="3"/><circle cx="626.5" cy="600.2" r="3"/><circle cx="627.4" cy="637.9" r="3"/><circle cx="628.2" cy="604.3" r="3"/><circle cx="629.0" cy="635.5" r="3"/><circle cx="629.9" cy="602.9" r="3"/><circle cx="630.7" cy="643.5" r="3"/><circle cx="631.6" cy="601.7" r="3"/><circle cx="632.4" cy="633.2" r="3"/><circle cx="633.2" cy="595.5" r="3"/><circle cx="634.1" cy="624.6" r="3"/><circle cx="634.9" cy="608.1" r="3"/><circle cx="635.7" cy="641.9" r="3"/><circle cx="636.6" cy="625.5" r="3"/><circle cx="637.4" cy="664.5" r="3"/><circle cx="638.3" cy="641.1" r="3"/><circle cx="639.1" cy="635.8" r="3"/><circle cx="639.9" cy="632.6" r="3"/><circle cx="640.8" cy="650.5" r="3"/><circle cx="641.6" cy="622.5" r="3"/><circle cx="642.4" cy="656.5" r="3"/><circle cx="643.3" cy="618.0" r="3"/><circle cx="644.1" cy="648.8" r="3"/><circle cx="644.9" cy="605.5" r="3"/><circle cx="645.8" cy="653.5" r="3"/><circle cx="646.6" cy="610.5" r="3"/><circle cx="647.5" cy="662.3" r="3"/><circle cx="648.3" cy="620.4" r="3"/><circle cx="649.1" cy="670.7" r="3"/><circle cx="650.0" cy="637.0" r="3"/><circle cx="650.8" cy="683.5" r="3"/><circle cx="651.6" cy="650.5" r="3"/><circle cx="652.5" cy="681.4" r="3"/><circle cx="653.3" cy="667.5" r="3"/><circle cx="654.2" cy="679.7" r="3"/><circle cx="655.0" cy="647.3" r="3"/><circle cx="655.8" cy="678.3" r="3"/><circle cx="656.7" cy="633.5" r="3"/><circle cx="657.5" cy="677.5" r="3"/></g>
<path d="M0 783 Q0.5 789 3 791 L0 791 Z" fill="#222"/>
</svg>
</body></html>
